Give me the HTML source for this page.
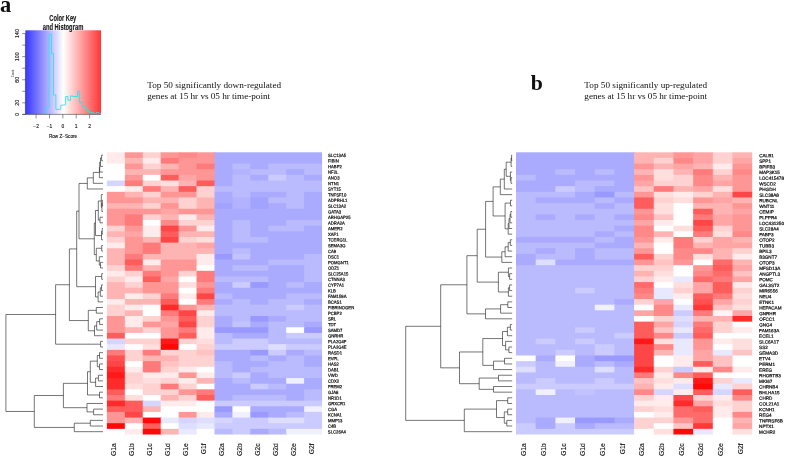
<!DOCTYPE html>
<html><head><meta charset="utf-8"><title>Heatmaps</title>
<style>html,body{margin:0;padding:0;background:#fff}svg{display:block}text{font-family:"Liberation Sans",sans-serif;fill:#111}.ser{font-family:"Liberation Serif",serif}</style></head><body>
<svg width="785" height="457" viewBox="0 0 785 457">
<defs><linearGradient id="kg" x1="0" x2="1" y1="0" y2="0"><stop offset="0" stop-color="#3636ff"/><stop offset="0.5" stop-color="#ffffff"/><stop offset="1" stop-color="#ff3636"/></linearGradient></defs>
<rect width="785" height="457" fill="#fff"/>
<text class="ser" x="0" y="11.9" font-size="22.5" font-weight="bold" fill="#000">a</text>
<text class="ser" x="530.8" y="89.8" font-size="21.8" font-weight="bold" fill="#000">b</text>
<g class="ser" font-size="9.2" fill="#222" transform="rotate(0.02)">
<text class="ser" x="147.3" y="87.5" textLength="133.8">Top 50 significantly down-regulated</text>
<text class="ser" x="147.3" y="98.9" textLength="122.8">genes at 15 hr vs 05 hr time-point</text>
<text class="ser" x="584.4" y="87.5" textLength="122.8">Top 50 significantly up-regulated</text>
<text class="ser" x="584.4" y="98.9" textLength="122.8">genes at 15 hr vs 05 hr time-point</text>
</g>
<rect x="25.4" y="30.3" width="75.6" height="84.1" fill="url(#kg)"/>
<text x="62.8" y="21.1" font-size="8.2" stroke="#111" stroke-width="0.12" font-weight="bold" text-anchor="middle" textLength="27" lengthAdjust="spacingAndGlyphs">Color Key</text>
<text x="63" y="29.7" font-size="8.2" stroke="#111" stroke-width="0.12" font-weight="bold" text-anchor="middle" textLength="40.6" lengthAdjust="spacingAndGlyphs">and Histogram</text>
<polyline points="46.18,114.22 46.18,107.33 48.94,107.33 48.94,34.3 51.5,34.3 51.5,53.59 53.46,53.59 53.46,94.93 55.83,94.93 55.83,109.3 60.75,109.3 60.75,105.36 65.67,104.77 65.67,96.5 67.83,96.5 67.83,100.24 70.59,100.24 70.59,95.91 72.76,95.91 72.76,96.5 77.68,96.5 77.68,91.39 79.65,91.39 79.65,102.21 82.01,102.21 82.01,106.15 84.57,106.15 84.57,108.31 86.93,108.31 86.93,110.68 89.29,110.68 89.29,112.65 93.82,112.65 93.82,113.83 96.38,113.83 96.38,112.65 98.74,112.65 98.74,113.43 101.1,113.43" fill="none" stroke="#30e0f0" stroke-width="0.9"/>
<path d="M22.2 114.4H101M36.09 114.4V118.4M49.47 114.4V118.4M62.85 114.4V118.4M76.23 114.4V118.4M89.61 114.4V118.4M22.2 114.4H25.4M22.2 102.85H25.4M22.2 91.3H25.4M22.2 79.75H25.4M22.2 68.2H25.4M22.2 56.65H25.4M22.2 45.1H25.4M22.2 33.55H25.4M25.4 33.55V114.4" fill="none" stroke="#222" stroke-width="0.5"/>
<text x="36.09" y="127.7" font-size="4.9" stroke="#111" stroke-width="0.12" text-anchor="middle">−2</text>
<text x="49.47" y="127.7" font-size="4.9" stroke="#111" stroke-width="0.12" text-anchor="middle">−1</text>
<text x="62.85" y="127.7" font-size="4.9" stroke="#111" stroke-width="0.12" text-anchor="middle">0</text>
<text x="76.23" y="127.7" font-size="4.9" stroke="#111" stroke-width="0.12" text-anchor="middle">1</text>
<text x="89.61" y="127.7" font-size="4.9" stroke="#111" stroke-width="0.12" text-anchor="middle">2</text>
<text x="63" y="137.6" font-size="4.9" stroke="#111" stroke-width="0.12" text-anchor="middle" textLength="28.2" lengthAdjust="spacingAndGlyphs">Row Z−Score</text>
<text transform="translate(18.6 114.4) rotate(-90)" font-size="5.4" stroke="#111" stroke-width="0.12" text-anchor="middle">0</text>
<text transform="translate(18.6 102.85) rotate(-90)" font-size="5.4" stroke="#111" stroke-width="0.12" text-anchor="middle">20</text>
<text transform="translate(18.6 79.75) rotate(-90)" font-size="5.4" stroke="#111" stroke-width="0.12" text-anchor="middle">60</text>
<text transform="translate(18.6 56.65) rotate(-90)" font-size="5.4" stroke="#111" stroke-width="0.12" text-anchor="middle">100</text>
<text transform="translate(18.6 33.55) rotate(-90)" font-size="5.4" stroke="#111" stroke-width="0.12" text-anchor="middle">140</text>
<text transform="translate(13.6 73.4) rotate(-90)" font-size="2.8" text-anchor="middle">Count</text>
<g>
<rect x="106.9" y="152.3" width="18.93" height="6.64" fill="#ffebeb"/>
<rect x="124.83" y="152.3" width="18.93" height="6.64" fill="#ff9696"/>
<rect x="142.76" y="152.3" width="18.93" height="6.64" fill="#ffd2d2"/>
<rect x="160.69" y="152.3" width="18.93" height="6.64" fill="#ff9696"/>
<rect x="178.62" y="152.3" width="18.93" height="6.64" fill="#ff8888"/>
<rect x="196.55" y="152.3" width="18.93" height="6.64" fill="#ff9696"/>
<rect x="214.48" y="152.3" width="107.58" height="6.64" fill="#aaaaff"/>
<rect x="106.9" y="157.94" width="18.93" height="6.64" fill="#ffebeb"/>
<rect x="124.83" y="157.94" width="18.93" height="6.64" fill="#ffb4b4"/>
<rect x="142.76" y="157.94" width="18.93" height="6.64" fill="#ffebeb"/>
<rect x="160.69" y="157.94" width="18.93" height="6.64" fill="#ff7a7a"/>
<rect x="178.62" y="157.94" width="36.86" height="6.64" fill="#ff9696"/>
<rect x="214.48" y="157.94" width="107.58" height="6.64" fill="#aaaaff"/>
<rect x="106.9" y="163.59" width="18.93" height="6.64" fill="#ffffff"/>
<rect x="124.83" y="163.59" width="18.93" height="6.64" fill="#ff9696"/>
<rect x="142.76" y="163.59" width="18.93" height="6.64" fill="#ffd2d2"/>
<rect x="160.69" y="163.59" width="18.93" height="6.64" fill="#ffb4b4"/>
<rect x="178.62" y="163.59" width="18.93" height="6.64" fill="#ff9696"/>
<rect x="196.55" y="163.59" width="18.93" height="6.64" fill="#ff7a7a"/>
<rect x="214.48" y="163.59" width="18.93" height="6.64" fill="#aaaaff"/>
<rect x="232.41" y="163.59" width="18.93" height="6.64" fill="#babaff"/>
<rect x="250.34" y="163.59" width="18.93" height="6.64" fill="#aaaaff"/>
<rect x="268.27" y="163.59" width="53.79" height="6.64" fill="#babaff"/>
<rect x="106.9" y="169.23" width="18.93" height="6.64" fill="#ffffff"/>
<rect x="124.83" y="169.23" width="36.86" height="6.64" fill="#ffb4b4"/>
<rect x="160.69" y="169.23" width="54.79" height="6.64" fill="#ff9696"/>
<rect x="214.48" y="169.23" width="18.93" height="6.64" fill="#aaaaff"/>
<rect x="232.41" y="169.23" width="18.93" height="6.64" fill="#b2b2ff"/>
<rect x="250.34" y="169.23" width="36.86" height="6.64" fill="#babaff"/>
<rect x="286.2" y="169.23" width="18.93" height="6.64" fill="#aaaaff"/>
<rect x="304.13" y="169.23" width="17.93" height="6.64" fill="#babaff"/>
<rect x="106.9" y="174.88" width="18.93" height="6.64" fill="#ffffff"/>
<rect x="124.83" y="174.88" width="18.93" height="6.64" fill="#ff9696"/>
<rect x="142.76" y="174.88" width="18.93" height="6.64" fill="#ffffff"/>
<rect x="160.69" y="174.88" width="18.93" height="6.64" fill="#ff5c5c"/>
<rect x="178.62" y="174.88" width="18.93" height="6.64" fill="#ffa5a5"/>
<rect x="196.55" y="174.88" width="18.93" height="6.64" fill="#ff9696"/>
<rect x="214.48" y="174.88" width="18.93" height="6.64" fill="#aaaaff"/>
<rect x="232.41" y="174.88" width="18.93" height="6.64" fill="#babaff"/>
<rect x="250.34" y="174.88" width="18.93" height="6.64" fill="#aaaaff"/>
<rect x="268.27" y="174.88" width="18.93" height="6.64" fill="#cbcbff"/>
<rect x="286.2" y="174.88" width="18.93" height="6.64" fill="#babaff"/>
<rect x="304.13" y="174.88" width="17.93" height="6.64" fill="#aaaaff"/>
<rect x="106.9" y="180.52" width="18.93" height="6.64" fill="#d5d5ff"/>
<rect x="124.83" y="180.52" width="18.93" height="6.64" fill="#ff7a7a"/>
<rect x="142.76" y="180.52" width="18.93" height="6.64" fill="#ffd2d2"/>
<rect x="160.69" y="180.52" width="18.93" height="6.64" fill="#ffdede"/>
<rect x="178.62" y="180.52" width="18.93" height="6.64" fill="#ffb4b4"/>
<rect x="196.55" y="180.52" width="18.93" height="6.64" fill="#ff5c5c"/>
<rect x="214.48" y="180.52" width="18.93" height="6.64" fill="#aaaaff"/>
<rect x="232.41" y="180.52" width="89.65" height="6.64" fill="#babaff"/>
<rect x="106.9" y="186.16" width="18.93" height="6.64" fill="#ffffff"/>
<rect x="124.83" y="186.16" width="18.93" height="6.64" fill="#ffebeb"/>
<rect x="142.76" y="186.16" width="18.93" height="6.64" fill="#ff7a7a"/>
<rect x="160.69" y="186.16" width="18.93" height="6.64" fill="#ffb4b4"/>
<rect x="178.62" y="186.16" width="18.93" height="6.64" fill="#ff5c5c"/>
<rect x="196.55" y="186.16" width="18.93" height="6.64" fill="#ffd2d2"/>
<rect x="214.48" y="186.16" width="107.58" height="6.64" fill="#babaff"/>
<rect x="106.9" y="191.81" width="18.93" height="6.64" fill="#ff9696"/>
<rect x="124.83" y="191.81" width="18.93" height="6.64" fill="#ffb4b4"/>
<rect x="142.76" y="191.81" width="18.93" height="6.64" fill="#ffd2d2"/>
<rect x="160.69" y="191.81" width="36.86" height="6.64" fill="#ff9696"/>
<rect x="196.55" y="191.81" width="18.93" height="6.64" fill="#ffd2d2"/>
<rect x="214.48" y="191.81" width="18.93" height="6.64" fill="#aaaaff"/>
<rect x="232.41" y="191.81" width="18.93" height="6.64" fill="#babaff"/>
<rect x="250.34" y="191.81" width="36.86" height="6.64" fill="#aaaaff"/>
<rect x="286.2" y="191.81" width="18.93" height="6.64" fill="#babaff"/>
<rect x="304.13" y="191.81" width="17.93" height="6.64" fill="#aaaaff"/>
<rect x="106.9" y="197.45" width="36.86" height="6.64" fill="#ff9696"/>
<rect x="142.76" y="197.45" width="36.86" height="6.64" fill="#ffb4b4"/>
<rect x="178.62" y="197.45" width="18.93" height="6.64" fill="#ffd2d2"/>
<rect x="196.55" y="197.45" width="18.93" height="6.64" fill="#ffb4b4"/>
<rect x="214.48" y="197.45" width="18.93" height="6.64" fill="#aaaaff"/>
<rect x="232.41" y="197.45" width="18.93" height="6.64" fill="#b2b2ff"/>
<rect x="250.34" y="197.45" width="18.93" height="6.64" fill="#a2a2ff"/>
<rect x="268.27" y="197.45" width="36.86" height="6.64" fill="#babaff"/>
<rect x="304.13" y="197.45" width="17.93" height="6.64" fill="#aaaaff"/>
<rect x="106.9" y="203.1" width="36.86" height="6.64" fill="#ffb4b4"/>
<rect x="142.76" y="203.1" width="18.93" height="6.64" fill="#ffd2d2"/>
<rect x="160.69" y="203.1" width="18.93" height="6.64" fill="#ff9696"/>
<rect x="178.62" y="203.1" width="18.93" height="6.64" fill="#ffd2d2"/>
<rect x="196.55" y="203.1" width="18.93" height="6.64" fill="#ffb4b4"/>
<rect x="214.48" y="203.1" width="18.93" height="6.64" fill="#a2a2ff"/>
<rect x="232.41" y="203.1" width="18.93" height="6.64" fill="#b2b2ff"/>
<rect x="250.34" y="203.1" width="18.93" height="6.64" fill="#a2a2ff"/>
<rect x="268.27" y="203.1" width="18.93" height="6.64" fill="#aaaaff"/>
<rect x="286.2" y="203.1" width="18.93" height="6.64" fill="#babaff"/>
<rect x="304.13" y="203.1" width="17.93" height="6.64" fill="#aaaaff"/>
<rect x="106.9" y="208.74" width="54.79" height="6.64" fill="#ff9696"/>
<rect x="160.69" y="208.74" width="18.93" height="6.64" fill="#ffa5a5"/>
<rect x="178.62" y="208.74" width="36.86" height="6.64" fill="#ff9696"/>
<rect x="214.48" y="208.74" width="107.58" height="6.64" fill="#aaaaff"/>
<rect x="106.9" y="214.38" width="18.93" height="6.64" fill="#ff9696"/>
<rect x="124.83" y="214.38" width="18.93" height="6.64" fill="#ff7a7a"/>
<rect x="142.76" y="214.38" width="18.93" height="6.64" fill="#ffd2d2"/>
<rect x="160.69" y="214.38" width="18.93" height="6.64" fill="#ffb4b4"/>
<rect x="178.62" y="214.38" width="18.93" height="6.64" fill="#ffebeb"/>
<rect x="196.55" y="214.38" width="18.93" height="6.64" fill="#ffb4b4"/>
<rect x="214.48" y="214.38" width="107.58" height="6.64" fill="#aaaaff"/>
<rect x="106.9" y="220.03" width="18.93" height="6.64" fill="#ff9696"/>
<rect x="124.83" y="220.03" width="18.93" height="6.64" fill="#ff7a7a"/>
<rect x="142.76" y="220.03" width="18.93" height="6.64" fill="#ffffff"/>
<rect x="160.69" y="220.03" width="18.93" height="6.64" fill="#ff8888"/>
<rect x="178.62" y="220.03" width="36.86" height="6.64" fill="#ffd2d2"/>
<rect x="214.48" y="220.03" width="18.93" height="6.64" fill="#aaaaff"/>
<rect x="232.41" y="220.03" width="18.93" height="6.64" fill="#babaff"/>
<rect x="250.34" y="220.03" width="36.86" height="6.64" fill="#aaaaff"/>
<rect x="286.2" y="220.03" width="35.86" height="6.64" fill="#babaff"/>
<rect x="106.9" y="225.67" width="18.93" height="6.64" fill="#ffd2d2"/>
<rect x="124.83" y="225.67" width="18.93" height="6.64" fill="#ff9696"/>
<rect x="142.76" y="225.67" width="18.93" height="6.64" fill="#ffebeb"/>
<rect x="160.69" y="225.67" width="18.93" height="6.64" fill="#ff4646"/>
<rect x="178.62" y="225.67" width="18.93" height="6.64" fill="#ff9696"/>
<rect x="196.55" y="225.67" width="18.93" height="6.64" fill="#ffebeb"/>
<rect x="214.48" y="225.67" width="18.93" height="6.64" fill="#aaaaff"/>
<rect x="232.41" y="225.67" width="18.93" height="6.64" fill="#babaff"/>
<rect x="250.34" y="225.67" width="18.93" height="6.64" fill="#aaaaff"/>
<rect x="268.27" y="225.67" width="36.86" height="6.64" fill="#babaff"/>
<rect x="304.13" y="225.67" width="17.93" height="6.64" fill="#aaaaff"/>
<rect x="106.9" y="231.32" width="18.93" height="6.64" fill="#ffb4b4"/>
<rect x="124.83" y="231.32" width="18.93" height="6.64" fill="#ffa5a5"/>
<rect x="142.76" y="231.32" width="18.93" height="6.64" fill="#ffebeb"/>
<rect x="160.69" y="231.32" width="18.93" height="6.64" fill="#ff5c5c"/>
<rect x="178.62" y="231.32" width="36.86" height="6.64" fill="#ffb4b4"/>
<rect x="214.48" y="231.32" width="18.93" height="6.64" fill="#aaaaff"/>
<rect x="232.41" y="231.32" width="18.93" height="6.64" fill="#babaff"/>
<rect x="250.34" y="231.32" width="71.72" height="6.64" fill="#aaaaff"/>
<rect x="106.9" y="236.96" width="18.93" height="6.64" fill="#ffd2d2"/>
<rect x="124.83" y="236.96" width="18.93" height="6.64" fill="#ff9696"/>
<rect x="142.76" y="236.96" width="18.93" height="6.64" fill="#ffb4b4"/>
<rect x="160.69" y="236.96" width="18.93" height="6.64" fill="#ff4646"/>
<rect x="178.62" y="236.96" width="18.93" height="6.64" fill="#ffd2d2"/>
<rect x="196.55" y="236.96" width="18.93" height="6.64" fill="#ffdede"/>
<rect x="214.48" y="236.96" width="18.93" height="6.64" fill="#aaaaff"/>
<rect x="232.41" y="236.96" width="36.86" height="6.64" fill="#babaff"/>
<rect x="268.27" y="236.96" width="53.79" height="6.64" fill="#aaaaff"/>
<rect x="106.9" y="242.6" width="18.93" height="6.64" fill="#ffebeb"/>
<rect x="124.83" y="242.6" width="18.93" height="6.64" fill="#ff9696"/>
<rect x="142.76" y="242.6" width="18.93" height="6.64" fill="#ff7a7a"/>
<rect x="160.69" y="242.6" width="36.86" height="6.64" fill="#ffb4b4"/>
<rect x="196.55" y="242.6" width="18.93" height="6.64" fill="#ffa5a5"/>
<rect x="214.48" y="242.6" width="107.58" height="6.64" fill="#aaaaff"/>
<rect x="106.9" y="248.25" width="18.93" height="6.64" fill="#ffb4b4"/>
<rect x="124.83" y="248.25" width="18.93" height="6.64" fill="#ff9696"/>
<rect x="142.76" y="248.25" width="18.93" height="6.64" fill="#ff7a7a"/>
<rect x="160.69" y="248.25" width="54.79" height="6.64" fill="#ffb4b4"/>
<rect x="214.48" y="248.25" width="18.93" height="6.64" fill="#aaaaff"/>
<rect x="232.41" y="248.25" width="18.93" height="6.64" fill="#babaff"/>
<rect x="250.34" y="248.25" width="71.72" height="6.64" fill="#aaaaff"/>
<rect x="106.9" y="253.89" width="18.93" height="6.64" fill="#ffb4b4"/>
<rect x="124.83" y="253.89" width="18.93" height="6.64" fill="#ff7a7a"/>
<rect x="142.76" y="253.89" width="54.79" height="6.64" fill="#ffb4b4"/>
<rect x="196.55" y="253.89" width="18.93" height="6.64" fill="#ffebeb"/>
<rect x="214.48" y="253.89" width="18.93" height="6.64" fill="#9999ff"/>
<rect x="232.41" y="253.89" width="18.93" height="6.64" fill="#c2c2ff"/>
<rect x="250.34" y="253.89" width="54.79" height="6.64" fill="#aaaaff"/>
<rect x="304.13" y="253.89" width="17.93" height="6.64" fill="#babaff"/>
<rect x="106.9" y="259.54" width="18.93" height="6.64" fill="#ffb4b4"/>
<rect x="124.83" y="259.54" width="18.93" height="6.64" fill="#ff5c5c"/>
<rect x="142.76" y="259.54" width="18.93" height="6.64" fill="#ffebeb"/>
<rect x="160.69" y="259.54" width="36.86" height="6.64" fill="#ff9696"/>
<rect x="196.55" y="259.54" width="18.93" height="6.64" fill="#ffebeb"/>
<rect x="214.48" y="259.54" width="54.79" height="6.64" fill="#aaaaff"/>
<rect x="268.27" y="259.54" width="53.79" height="6.64" fill="#babaff"/>
<rect x="106.9" y="265.18" width="18.93" height="6.64" fill="#ffd2d2"/>
<rect x="124.83" y="265.18" width="18.93" height="6.64" fill="#ff7a7a"/>
<rect x="142.76" y="265.18" width="18.93" height="6.64" fill="#ffb4b4"/>
<rect x="160.69" y="265.18" width="36.86" height="6.64" fill="#ff9696"/>
<rect x="196.55" y="265.18" width="18.93" height="6.64" fill="#ffffff"/>
<rect x="214.48" y="265.18" width="18.93" height="6.64" fill="#aaaaff"/>
<rect x="232.41" y="265.18" width="36.86" height="6.64" fill="#babaff"/>
<rect x="268.27" y="265.18" width="36.86" height="6.64" fill="#aaaaff"/>
<rect x="304.13" y="265.18" width="17.93" height="6.64" fill="#babaff"/>
<rect x="106.9" y="270.82" width="18.93" height="6.64" fill="#ffebeb"/>
<rect x="124.83" y="270.82" width="18.93" height="6.64" fill="#ffd2d2"/>
<rect x="142.76" y="270.82" width="18.93" height="6.64" fill="#ff7a7a"/>
<rect x="160.69" y="270.82" width="18.93" height="6.64" fill="#ff9696"/>
<rect x="178.62" y="270.82" width="18.93" height="6.64" fill="#ffd2d2"/>
<rect x="196.55" y="270.82" width="18.93" height="6.64" fill="#ff7a7a"/>
<rect x="214.48" y="270.82" width="90.65" height="6.64" fill="#aaaaff"/>
<rect x="304.13" y="270.82" width="17.93" height="6.64" fill="#babaff"/>
<rect x="106.9" y="276.47" width="18.93" height="6.64" fill="#ffd2d2"/>
<rect x="124.83" y="276.47" width="18.93" height="6.64" fill="#ffebeb"/>
<rect x="142.76" y="276.47" width="18.93" height="6.64" fill="#ff5c5c"/>
<rect x="160.69" y="276.47" width="18.93" height="6.64" fill="#ffa5a5"/>
<rect x="178.62" y="276.47" width="18.93" height="6.64" fill="#ffffff"/>
<rect x="196.55" y="276.47" width="18.93" height="6.64" fill="#ff7a7a"/>
<rect x="214.48" y="276.47" width="54.79" height="6.64" fill="#babaff"/>
<rect x="268.27" y="276.47" width="36.86" height="6.64" fill="#aaaaff"/>
<rect x="304.13" y="276.47" width="17.93" height="6.64" fill="#babaff"/>
<rect x="106.9" y="282.11" width="18.93" height="6.64" fill="#ffb4b4"/>
<rect x="124.83" y="282.11" width="18.93" height="6.64" fill="#ffd2d2"/>
<rect x="142.76" y="282.11" width="36.86" height="6.64" fill="#ff9696"/>
<rect x="178.62" y="282.11" width="18.93" height="6.64" fill="#ffdede"/>
<rect x="196.55" y="282.11" width="18.93" height="6.64" fill="#ff9696"/>
<rect x="214.48" y="282.11" width="18.93" height="6.64" fill="#aaaaff"/>
<rect x="232.41" y="282.11" width="18.93" height="6.64" fill="#cbcbff"/>
<rect x="250.34" y="282.11" width="18.93" height="6.64" fill="#9999ff"/>
<rect x="268.27" y="282.11" width="18.93" height="6.64" fill="#aaaaff"/>
<rect x="286.2" y="282.11" width="18.93" height="6.64" fill="#babaff"/>
<rect x="304.13" y="282.11" width="17.93" height="6.64" fill="#aaaaff"/>
<rect x="106.9" y="287.76" width="36.86" height="6.64" fill="#ffb4b4"/>
<rect x="142.76" y="287.76" width="36.86" height="6.64" fill="#ff9696"/>
<rect x="178.62" y="287.76" width="18.93" height="6.64" fill="#ffffff"/>
<rect x="196.55" y="287.76" width="18.93" height="6.64" fill="#ff7a7a"/>
<rect x="214.48" y="287.76" width="107.58" height="6.64" fill="#aaaaff"/>
<rect x="106.9" y="293.4" width="18.93" height="6.64" fill="#ffb4b4"/>
<rect x="124.83" y="293.4" width="18.93" height="6.64" fill="#ffebeb"/>
<rect x="142.76" y="293.4" width="18.93" height="6.64" fill="#ffd2d2"/>
<rect x="160.69" y="293.4" width="18.93" height="6.64" fill="#ff7a7a"/>
<rect x="178.62" y="293.4" width="18.93" height="6.64" fill="#ffebeb"/>
<rect x="196.55" y="293.4" width="18.93" height="6.64" fill="#ff4646"/>
<rect x="214.48" y="293.4" width="18.93" height="6.64" fill="#babaff"/>
<rect x="232.41" y="293.4" width="54.79" height="6.64" fill="#aaaaff"/>
<rect x="286.2" y="293.4" width="35.86" height="6.64" fill="#babaff"/>
<rect x="106.9" y="299.04" width="18.93" height="6.64" fill="#ffebeb"/>
<rect x="124.83" y="299.04" width="36.86" height="6.64" fill="#ffb4b4"/>
<rect x="160.69" y="299.04" width="18.93" height="6.64" fill="#ff5c5c"/>
<rect x="178.62" y="299.04" width="18.93" height="6.64" fill="#ffffff"/>
<rect x="196.55" y="299.04" width="18.93" height="6.64" fill="#ff7a7a"/>
<rect x="214.48" y="299.04" width="18.93" height="6.64" fill="#aaaaff"/>
<rect x="232.41" y="299.04" width="18.93" height="6.64" fill="#babaff"/>
<rect x="250.34" y="299.04" width="18.93" height="6.64" fill="#aaaaff"/>
<rect x="268.27" y="299.04" width="36.86" height="6.64" fill="#babaff"/>
<rect x="304.13" y="299.04" width="17.93" height="6.64" fill="#aaaaff"/>
<rect x="106.9" y="304.69" width="18.93" height="6.64" fill="#ffd2d2"/>
<rect x="124.83" y="304.69" width="18.93" height="6.64" fill="#ffebeb"/>
<rect x="142.76" y="304.69" width="18.93" height="6.64" fill="#ffffff"/>
<rect x="160.69" y="304.69" width="18.93" height="6.64" fill="#ff2a2a"/>
<rect x="178.62" y="304.69" width="18.93" height="6.64" fill="#ff9696"/>
<rect x="196.55" y="304.69" width="18.93" height="6.64" fill="#ffb4b4"/>
<rect x="214.48" y="304.69" width="72.72" height="6.64" fill="#babaff"/>
<rect x="286.2" y="304.69" width="18.93" height="6.64" fill="#cbcbff"/>
<rect x="304.13" y="304.69" width="17.93" height="6.64" fill="#babaff"/>
<rect x="106.9" y="310.33" width="18.93" height="6.64" fill="#ffd2d2"/>
<rect x="124.83" y="310.33" width="18.93" height="6.64" fill="#ffb4b4"/>
<rect x="142.76" y="310.33" width="18.93" height="6.64" fill="#ffffff"/>
<rect x="160.69" y="310.33" width="18.93" height="6.64" fill="#ff7a7a"/>
<rect x="178.62" y="310.33" width="18.93" height="6.64" fill="#ff4646"/>
<rect x="196.55" y="310.33" width="18.93" height="6.64" fill="#ffebeb"/>
<rect x="214.48" y="310.33" width="107.58" height="6.64" fill="#babaff"/>
<rect x="106.9" y="315.98" width="18.93" height="6.64" fill="#ff9696"/>
<rect x="124.83" y="315.98" width="18.93" height="6.64" fill="#ffebeb"/>
<rect x="142.76" y="315.98" width="18.93" height="6.64" fill="#ffd2d2"/>
<rect x="160.69" y="315.98" width="18.93" height="6.64" fill="#ff9696"/>
<rect x="178.62" y="315.98" width="18.93" height="6.64" fill="#ff5c5c"/>
<rect x="196.55" y="315.98" width="18.93" height="6.64" fill="#ffd2d2"/>
<rect x="214.48" y="315.98" width="18.93" height="6.64" fill="#aaaaff"/>
<rect x="232.41" y="315.98" width="18.93" height="6.64" fill="#babaff"/>
<rect x="250.34" y="315.98" width="18.93" height="6.64" fill="#9999ff"/>
<rect x="268.27" y="315.98" width="18.93" height="6.64" fill="#aaaaff"/>
<rect x="286.2" y="315.98" width="35.86" height="6.64" fill="#babaff"/>
<rect x="106.9" y="321.62" width="18.93" height="6.64" fill="#ff9696"/>
<rect x="124.83" y="321.62" width="18.93" height="6.64" fill="#ffebeb"/>
<rect x="142.76" y="321.62" width="18.93" height="6.64" fill="#ff9696"/>
<rect x="160.69" y="321.62" width="18.93" height="6.64" fill="#ffa5a5"/>
<rect x="178.62" y="321.62" width="18.93" height="6.64" fill="#ff4646"/>
<rect x="196.55" y="321.62" width="18.93" height="6.64" fill="#ffd2d2"/>
<rect x="214.48" y="321.62" width="18.93" height="6.64" fill="#aaaaff"/>
<rect x="232.41" y="321.62" width="18.93" height="6.64" fill="#c2c2ff"/>
<rect x="250.34" y="321.62" width="18.93" height="6.64" fill="#aaaaff"/>
<rect x="268.27" y="321.62" width="36.86" height="6.64" fill="#babaff"/>
<rect x="304.13" y="321.62" width="17.93" height="6.64" fill="#aaaaff"/>
<rect x="106.9" y="327.26" width="18.93" height="6.64" fill="#ff9696"/>
<rect x="124.83" y="327.26" width="18.93" height="6.64" fill="#ffb4b4"/>
<rect x="142.76" y="327.26" width="18.93" height="6.64" fill="#ffd2d2"/>
<rect x="160.69" y="327.26" width="18.93" height="6.64" fill="#ff9696"/>
<rect x="178.62" y="327.26" width="18.93" height="6.64" fill="#ff7a7a"/>
<rect x="196.55" y="327.26" width="18.93" height="6.64" fill="#ffebeb"/>
<rect x="214.48" y="327.26" width="54.79" height="6.64" fill="#9999ff"/>
<rect x="268.27" y="327.26" width="18.93" height="6.64" fill="#babaff"/>
<rect x="286.2" y="327.26" width="18.93" height="6.64" fill="#ffffff"/>
<rect x="304.13" y="327.26" width="17.93" height="6.64" fill="#9999ff"/>
<rect x="106.9" y="332.91" width="18.93" height="6.64" fill="#ff5c5c"/>
<rect x="124.83" y="332.91" width="36.86" height="6.64" fill="#ffffff"/>
<rect x="160.69" y="332.91" width="18.93" height="6.64" fill="#ff9696"/>
<rect x="178.62" y="332.91" width="18.93" height="6.64" fill="#ff5c5c"/>
<rect x="196.55" y="332.91" width="18.93" height="6.64" fill="#ffebeb"/>
<rect x="214.48" y="332.91" width="18.93" height="6.64" fill="#babaff"/>
<rect x="232.41" y="332.91" width="36.86" height="6.64" fill="#aaaaff"/>
<rect x="268.27" y="332.91" width="18.93" height="6.64" fill="#babaff"/>
<rect x="286.2" y="332.91" width="35.86" height="6.64" fill="#cbcbff"/>
<rect x="106.9" y="338.55" width="18.93" height="6.64" fill="#d5d5ff"/>
<rect x="124.83" y="338.55" width="36.86" height="6.64" fill="#ffd2d2"/>
<rect x="160.69" y="338.55" width="18.93" height="6.64" fill="#ff1919"/>
<rect x="178.62" y="338.55" width="18.93" height="6.64" fill="#ffd2d2"/>
<rect x="196.55" y="338.55" width="18.93" height="6.64" fill="#ffdede"/>
<rect x="214.48" y="338.55" width="18.93" height="6.64" fill="#babaff"/>
<rect x="232.41" y="338.55" width="36.86" height="6.64" fill="#cbcbff"/>
<rect x="268.27" y="338.55" width="53.79" height="6.64" fill="#babaff"/>
<rect x="106.9" y="344.2" width="18.93" height="6.64" fill="#e8e8ff"/>
<rect x="124.83" y="344.2" width="18.93" height="6.64" fill="#ffffff"/>
<rect x="142.76" y="344.2" width="18.93" height="6.64" fill="#ffdede"/>
<rect x="160.69" y="344.2" width="18.93" height="6.64" fill="#ff0808"/>
<rect x="178.62" y="344.2" width="18.93" height="6.64" fill="#ffffff"/>
<rect x="196.55" y="344.2" width="18.93" height="6.64" fill="#ffd2d2"/>
<rect x="214.48" y="344.2" width="54.79" height="6.64" fill="#cbcbff"/>
<rect x="268.27" y="344.2" width="18.93" height="6.64" fill="#dedeff"/>
<rect x="286.2" y="344.2" width="35.86" height="6.64" fill="#cbcbff"/>
<rect x="106.9" y="349.84" width="18.93" height="6.64" fill="#ff7a7a"/>
<rect x="124.83" y="349.84" width="18.93" height="6.64" fill="#ffd2d2"/>
<rect x="142.76" y="349.84" width="18.93" height="6.64" fill="#ff7a7a"/>
<rect x="160.69" y="349.84" width="36.86" height="6.64" fill="#ffd2d2"/>
<rect x="196.55" y="349.84" width="18.93" height="6.64" fill="#ffc3c3"/>
<rect x="214.48" y="349.84" width="36.86" height="6.64" fill="#aaaaff"/>
<rect x="250.34" y="349.84" width="18.93" height="6.64" fill="#9999ff"/>
<rect x="268.27" y="349.84" width="18.93" height="6.64" fill="#cbcbff"/>
<rect x="286.2" y="349.84" width="18.93" height="6.64" fill="#aaaaff"/>
<rect x="304.13" y="349.84" width="17.93" height="6.64" fill="#babaff"/>
<rect x="106.9" y="355.48" width="18.93" height="6.64" fill="#ff5151"/>
<rect x="124.83" y="355.48" width="18.93" height="6.64" fill="#ffd2d2"/>
<rect x="142.76" y="355.48" width="36.86" height="6.64" fill="#ffb4b4"/>
<rect x="178.62" y="355.48" width="36.86" height="6.64" fill="#ffd2d2"/>
<rect x="214.48" y="355.48" width="36.86" height="6.64" fill="#aaaaff"/>
<rect x="250.34" y="355.48" width="18.93" height="6.64" fill="#babaff"/>
<rect x="268.27" y="355.48" width="18.93" height="6.64" fill="#aaaaff"/>
<rect x="286.2" y="355.48" width="18.93" height="6.64" fill="#babaff"/>
<rect x="304.13" y="355.48" width="17.93" height="6.64" fill="#aaaaff"/>
<rect x="106.9" y="361.13" width="18.93" height="6.64" fill="#ff4646"/>
<rect x="124.83" y="361.13" width="18.93" height="6.64" fill="#ffffff"/>
<rect x="142.76" y="361.13" width="18.93" height="6.64" fill="#ff7a7a"/>
<rect x="160.69" y="361.13" width="18.93" height="6.64" fill="#ffc3c3"/>
<rect x="178.62" y="361.13" width="36.86" height="6.64" fill="#ffd2d2"/>
<rect x="214.48" y="361.13" width="18.93" height="6.64" fill="#babaff"/>
<rect x="232.41" y="361.13" width="36.86" height="6.64" fill="#aaaaff"/>
<rect x="268.27" y="361.13" width="36.86" height="6.64" fill="#babaff"/>
<rect x="304.13" y="361.13" width="17.93" height="6.64" fill="#aaaaff"/>
<rect x="106.9" y="366.77" width="18.93" height="6.64" fill="#ff2a2a"/>
<rect x="124.83" y="366.77" width="18.93" height="6.64" fill="#ffebeb"/>
<rect x="142.76" y="366.77" width="18.93" height="6.64" fill="#ff7a7a"/>
<rect x="160.69" y="366.77" width="18.93" height="6.64" fill="#ffd2d2"/>
<rect x="178.62" y="366.77" width="18.93" height="6.64" fill="#ffebeb"/>
<rect x="196.55" y="366.77" width="18.93" height="6.64" fill="#ffffff"/>
<rect x="214.48" y="366.77" width="18.93" height="6.64" fill="#babaff"/>
<rect x="232.41" y="366.77" width="18.93" height="6.64" fill="#aaaaff"/>
<rect x="250.34" y="366.77" width="71.72" height="6.64" fill="#babaff"/>
<rect x="106.9" y="372.42" width="18.93" height="6.64" fill="#ff1919"/>
<rect x="124.83" y="372.42" width="18.93" height="6.64" fill="#ffd2d2"/>
<rect x="142.76" y="372.42" width="36.86" height="6.64" fill="#ffebeb"/>
<rect x="178.62" y="372.42" width="18.93" height="6.64" fill="#ff9696"/>
<rect x="196.55" y="372.42" width="18.93" height="6.64" fill="#ffebeb"/>
<rect x="214.48" y="372.42" width="18.93" height="6.64" fill="#babaff"/>
<rect x="232.41" y="372.42" width="18.93" height="6.64" fill="#cbcbff"/>
<rect x="250.34" y="372.42" width="18.93" height="6.64" fill="#aaaaff"/>
<rect x="268.27" y="372.42" width="53.79" height="6.64" fill="#babaff"/>
<rect x="106.9" y="378.06" width="18.93" height="6.64" fill="#ff2a2a"/>
<rect x="124.83" y="378.06" width="18.93" height="6.64" fill="#ffd2d2"/>
<rect x="142.76" y="378.06" width="18.93" height="6.64" fill="#ffdede"/>
<rect x="160.69" y="378.06" width="18.93" height="6.64" fill="#ffd2d2"/>
<rect x="178.62" y="378.06" width="18.93" height="6.64" fill="#ffebeb"/>
<rect x="196.55" y="378.06" width="18.93" height="6.64" fill="#ffb4b4"/>
<rect x="214.48" y="378.06" width="18.93" height="6.64" fill="#aaaaff"/>
<rect x="232.41" y="378.06" width="18.93" height="6.64" fill="#babaff"/>
<rect x="250.34" y="378.06" width="36.86" height="6.64" fill="#aaaaff"/>
<rect x="286.2" y="378.06" width="18.93" height="6.64" fill="#f0f0ff"/>
<rect x="304.13" y="378.06" width="17.93" height="6.64" fill="#aaaaff"/>
<rect x="106.9" y="383.7" width="18.93" height="6.64" fill="#ff2a2a"/>
<rect x="124.83" y="383.7" width="18.93" height="6.64" fill="#ffdede"/>
<rect x="142.76" y="383.7" width="18.93" height="6.64" fill="#ffd2d2"/>
<rect x="160.69" y="383.7" width="18.93" height="6.64" fill="#ff7a7a"/>
<rect x="178.62" y="383.7" width="18.93" height="6.64" fill="#ffd2d2"/>
<rect x="196.55" y="383.7" width="18.93" height="6.64" fill="#ffffff"/>
<rect x="214.48" y="383.7" width="36.86" height="6.64" fill="#aaaaff"/>
<rect x="250.34" y="383.7" width="18.93" height="6.64" fill="#cbcbff"/>
<rect x="268.27" y="383.7" width="18.93" height="6.64" fill="#babaff"/>
<rect x="286.2" y="383.7" width="35.86" height="6.64" fill="#aaaaff"/>
<rect x="106.9" y="389.35" width="18.93" height="6.64" fill="#ff5c5c"/>
<rect x="124.83" y="389.35" width="18.93" height="6.64" fill="#ffffff"/>
<rect x="142.76" y="389.35" width="36.86" height="6.64" fill="#ffd2d2"/>
<rect x="178.62" y="389.35" width="18.93" height="6.64" fill="#ff9696"/>
<rect x="196.55" y="389.35" width="18.93" height="6.64" fill="#ff7a7a"/>
<rect x="214.48" y="389.35" width="90.65" height="6.64" fill="#aaaaff"/>
<rect x="304.13" y="389.35" width="17.93" height="6.64" fill="#babaff"/>
<rect x="106.9" y="394.99" width="18.93" height="6.64" fill="#ff7a7a"/>
<rect x="124.83" y="394.99" width="18.93" height="6.64" fill="#ffdede"/>
<rect x="142.76" y="394.99" width="18.93" height="6.64" fill="#ffffff"/>
<rect x="160.69" y="394.99" width="18.93" height="6.64" fill="#ffb4b4"/>
<rect x="178.62" y="394.99" width="18.93" height="6.64" fill="#ffd2d2"/>
<rect x="196.55" y="394.99" width="18.93" height="6.64" fill="#ff5c5c"/>
<rect x="214.48" y="394.99" width="18.93" height="6.64" fill="#aaaaff"/>
<rect x="232.41" y="394.99" width="54.79" height="6.64" fill="#babaff"/>
<rect x="286.2" y="394.99" width="18.93" height="6.64" fill="#aaaaff"/>
<rect x="304.13" y="394.99" width="17.93" height="6.64" fill="#babaff"/>
<rect x="106.9" y="400.64" width="18.93" height="6.64" fill="#ff2a2a"/>
<rect x="124.83" y="400.64" width="18.93" height="6.64" fill="#ff5c5c"/>
<rect x="142.76" y="400.64" width="18.93" height="6.64" fill="#d5d5ff"/>
<rect x="160.69" y="400.64" width="36.86" height="6.64" fill="#ffebeb"/>
<rect x="196.55" y="400.64" width="18.93" height="6.64" fill="#ffffff"/>
<rect x="214.48" y="400.64" width="107.58" height="6.64" fill="#cbcbff"/>
<rect x="106.9" y="406.28" width="36.86" height="6.64" fill="#ff5c5c"/>
<rect x="142.76" y="406.28" width="18.93" height="6.64" fill="#ffb4b4"/>
<rect x="160.69" y="406.28" width="54.79" height="6.64" fill="#ffffff"/>
<rect x="214.48" y="406.28" width="18.93" height="6.64" fill="#9999ff"/>
<rect x="232.41" y="406.28" width="18.93" height="6.64" fill="#ffffff"/>
<rect x="250.34" y="406.28" width="54.79" height="6.64" fill="#aaaaff"/>
<rect x="304.13" y="406.28" width="17.93" height="6.64" fill="#f0f0ff"/>
<rect x="106.9" y="411.92" width="18.93" height="6.64" fill="#ff9696"/>
<rect x="124.83" y="411.92" width="18.93" height="6.64" fill="#ff4646"/>
<rect x="142.76" y="411.92" width="36.86" height="6.64" fill="#ffffff"/>
<rect x="178.62" y="411.92" width="18.93" height="6.64" fill="#ff9696"/>
<rect x="196.55" y="411.92" width="18.93" height="6.64" fill="#ffebeb"/>
<rect x="214.48" y="411.92" width="18.93" height="6.64" fill="#aaaaff"/>
<rect x="232.41" y="411.92" width="18.93" height="6.64" fill="#f0f0ff"/>
<rect x="250.34" y="411.92" width="18.93" height="6.64" fill="#9999ff"/>
<rect x="268.27" y="411.92" width="18.93" height="6.64" fill="#aaaaff"/>
<rect x="286.2" y="411.92" width="18.93" height="6.64" fill="#babaff"/>
<rect x="304.13" y="411.92" width="17.93" height="6.64" fill="#cbcbff"/>
<rect x="106.9" y="417.57" width="18.93" height="6.64" fill="#ff9696"/>
<rect x="124.83" y="417.57" width="18.93" height="6.64" fill="#ffb4b4"/>
<rect x="142.76" y="417.57" width="18.93" height="6.64" fill="#ff0808"/>
<rect x="160.69" y="417.57" width="18.93" height="6.64" fill="#e8e8ff"/>
<rect x="178.62" y="417.57" width="18.93" height="6.64" fill="#d5d5ff"/>
<rect x="196.55" y="417.57" width="18.93" height="6.64" fill="#dedeff"/>
<rect x="214.48" y="417.57" width="18.93" height="6.64" fill="#d5d5ff"/>
<rect x="232.41" y="417.57" width="36.86" height="6.64" fill="#cbcbff"/>
<rect x="268.27" y="417.57" width="36.86" height="6.64" fill="#dedeff"/>
<rect x="304.13" y="417.57" width="17.93" height="6.64" fill="#cbcbff"/>
<rect x="106.9" y="423.21" width="18.93" height="6.64" fill="#ff0808"/>
<rect x="124.83" y="423.21" width="18.93" height="6.64" fill="#ffffff"/>
<rect x="142.76" y="423.21" width="18.93" height="6.64" fill="#ff5c5c"/>
<rect x="160.69" y="423.21" width="18.93" height="6.64" fill="#ffffff"/>
<rect x="178.62" y="423.21" width="18.93" height="6.64" fill="#dedeff"/>
<rect x="196.55" y="423.21" width="18.93" height="6.64" fill="#e8e8ff"/>
<rect x="214.48" y="423.21" width="107.58" height="6.64" fill="#cbcbff"/>
<rect x="106.9" y="428.86" width="18.93" height="5.64" fill="#ffffff"/>
<rect x="124.83" y="428.86" width="18.93" height="5.64" fill="#ffebeb"/>
<rect x="142.76" y="428.86" width="18.93" height="5.64" fill="#ff0808"/>
<rect x="160.69" y="428.86" width="18.93" height="5.64" fill="#ffb4b4"/>
<rect x="178.62" y="428.86" width="18.93" height="5.64" fill="#e8e8ff"/>
<rect x="196.55" y="428.86" width="18.93" height="5.64" fill="#ffffff"/>
<rect x="214.48" y="428.86" width="18.93" height="5.64" fill="#babaff"/>
<rect x="232.41" y="428.86" width="18.93" height="5.64" fill="#cbcbff"/>
<rect x="250.34" y="428.86" width="18.93" height="5.64" fill="#aaaaff"/>
<rect x="268.27" y="428.86" width="18.93" height="5.64" fill="#babaff"/>
<rect x="286.2" y="428.86" width="35.86" height="5.64" fill="#f0f0ff"/>
</g>
<g>
<rect x="516" y="152.3" width="119.08" height="6.64" fill="#aaaaff"/>
<rect x="634.08" y="152.3" width="40.36" height="6.64" fill="#ffb4b4"/>
<rect x="673.44" y="152.3" width="20.68" height="6.64" fill="#ff9696"/>
<rect x="693.12" y="152.3" width="20.68" height="6.64" fill="#ffa5a5"/>
<rect x="712.8" y="152.3" width="20.68" height="6.64" fill="#ffd2d2"/>
<rect x="732.48" y="152.3" width="19.68" height="6.64" fill="#ffb4b4"/>
<rect x="516" y="157.94" width="119.08" height="6.64" fill="#aaaaff"/>
<rect x="634.08" y="157.94" width="20.68" height="6.64" fill="#ffb4b4"/>
<rect x="653.76" y="157.94" width="20.68" height="6.64" fill="#ffd2d2"/>
<rect x="673.44" y="157.94" width="20.68" height="6.64" fill="#ff8888"/>
<rect x="693.12" y="157.94" width="20.68" height="6.64" fill="#ffa5a5"/>
<rect x="712.8" y="157.94" width="20.68" height="6.64" fill="#ffd2d2"/>
<rect x="732.48" y="157.94" width="19.68" height="6.64" fill="#ffa5a5"/>
<rect x="516" y="163.59" width="119.08" height="6.64" fill="#aaaaff"/>
<rect x="634.08" y="163.59" width="20.68" height="6.64" fill="#ff9696"/>
<rect x="653.76" y="163.59" width="20.68" height="6.64" fill="#ffb4b4"/>
<rect x="673.44" y="163.59" width="20.68" height="6.64" fill="#ffa5a5"/>
<rect x="693.12" y="163.59" width="20.68" height="6.64" fill="#ffb4b4"/>
<rect x="712.8" y="163.59" width="20.68" height="6.64" fill="#ffebeb"/>
<rect x="732.48" y="163.59" width="19.68" height="6.64" fill="#ff9696"/>
<rect x="516" y="169.23" width="40.36" height="6.64" fill="#aaaaff"/>
<rect x="555.36" y="169.23" width="20.68" height="6.64" fill="#babaff"/>
<rect x="575.04" y="169.23" width="20.68" height="6.64" fill="#aaaaff"/>
<rect x="594.72" y="169.23" width="20.68" height="6.64" fill="#babaff"/>
<rect x="614.4" y="169.23" width="20.68" height="6.64" fill="#aaaaff"/>
<rect x="634.08" y="169.23" width="20.68" height="6.64" fill="#ffb4b4"/>
<rect x="653.76" y="169.23" width="20.68" height="6.64" fill="#ffdede"/>
<rect x="673.44" y="169.23" width="20.68" height="6.64" fill="#ffb4b4"/>
<rect x="693.12" y="169.23" width="20.68" height="6.64" fill="#ff7a7a"/>
<rect x="712.8" y="169.23" width="20.68" height="6.64" fill="#ffd2d2"/>
<rect x="732.48" y="169.23" width="19.68" height="6.64" fill="#ff8888"/>
<rect x="516" y="174.88" width="20.68" height="6.64" fill="#babaff"/>
<rect x="535.68" y="174.88" width="99.4" height="6.64" fill="#aaaaff"/>
<rect x="634.08" y="174.88" width="20.68" height="6.64" fill="#ff9696"/>
<rect x="653.76" y="174.88" width="20.68" height="6.64" fill="#ffdede"/>
<rect x="673.44" y="174.88" width="20.68" height="6.64" fill="#ffd2d2"/>
<rect x="693.12" y="174.88" width="20.68" height="6.64" fill="#ff8888"/>
<rect x="712.8" y="174.88" width="20.68" height="6.64" fill="#ffb4b4"/>
<rect x="732.48" y="174.88" width="19.68" height="6.64" fill="#ff9696"/>
<rect x="516" y="180.52" width="60.04" height="6.64" fill="#aaaaff"/>
<rect x="575.04" y="180.52" width="40.36" height="6.64" fill="#babaff"/>
<rect x="614.4" y="180.52" width="20.68" height="6.64" fill="#aaaaff"/>
<rect x="634.08" y="180.52" width="20.68" height="6.64" fill="#ffa5a5"/>
<rect x="653.76" y="180.52" width="40.36" height="6.64" fill="#ffd2d2"/>
<rect x="693.12" y="180.52" width="20.68" height="6.64" fill="#ff8888"/>
<rect x="712.8" y="180.52" width="20.68" height="6.64" fill="#ffa5a5"/>
<rect x="732.48" y="180.52" width="19.68" height="6.64" fill="#ff9696"/>
<rect x="516" y="186.16" width="40.36" height="6.64" fill="#aaaaff"/>
<rect x="555.36" y="186.16" width="20.68" height="6.64" fill="#cbcbff"/>
<rect x="575.04" y="186.16" width="20.68" height="6.64" fill="#babaff"/>
<rect x="594.72" y="186.16" width="40.36" height="6.64" fill="#aaaaff"/>
<rect x="634.08" y="186.16" width="20.68" height="6.64" fill="#ffc3c3"/>
<rect x="653.76" y="186.16" width="20.68" height="6.64" fill="#ff7a7a"/>
<rect x="673.44" y="186.16" width="20.68" height="6.64" fill="#ffb4b4"/>
<rect x="693.12" y="186.16" width="20.68" height="6.64" fill="#ffa5a5"/>
<rect x="712.8" y="186.16" width="20.68" height="6.64" fill="#ffdede"/>
<rect x="732.48" y="186.16" width="19.68" height="6.64" fill="#ff9696"/>
<rect x="516" y="191.81" width="60.04" height="6.64" fill="#babaff"/>
<rect x="575.04" y="191.81" width="20.68" height="6.64" fill="#aaaaff"/>
<rect x="594.72" y="191.81" width="20.68" height="6.64" fill="#9999ff"/>
<rect x="614.4" y="191.81" width="20.68" height="6.64" fill="#babaff"/>
<rect x="634.08" y="191.81" width="20.68" height="6.64" fill="#ff9696"/>
<rect x="653.76" y="191.81" width="20.68" height="6.64" fill="#ffdede"/>
<rect x="673.44" y="191.81" width="20.68" height="6.64" fill="#ffebeb"/>
<rect x="693.12" y="191.81" width="20.68" height="6.64" fill="#ffd2d2"/>
<rect x="712.8" y="191.81" width="20.68" height="6.64" fill="#ffb4b4"/>
<rect x="732.48" y="191.81" width="19.68" height="6.64" fill="#ff4646"/>
<rect x="516" y="197.45" width="20.68" height="6.64" fill="#babaff"/>
<rect x="535.68" y="197.45" width="60.04" height="6.64" fill="#aaaaff"/>
<rect x="594.72" y="197.45" width="20.68" height="6.64" fill="#babaff"/>
<rect x="614.4" y="197.45" width="20.68" height="6.64" fill="#aaaaff"/>
<rect x="634.08" y="197.45" width="20.68" height="6.64" fill="#ff5c5c"/>
<rect x="653.76" y="197.45" width="20.68" height="6.64" fill="#ffd2d2"/>
<rect x="673.44" y="197.45" width="20.68" height="6.64" fill="#ffdede"/>
<rect x="693.12" y="197.45" width="20.68" height="6.64" fill="#ff9696"/>
<rect x="712.8" y="197.45" width="20.68" height="6.64" fill="#ffa5a5"/>
<rect x="732.48" y="197.45" width="19.68" height="6.64" fill="#ffb4b4"/>
<rect x="516" y="203.1" width="79.72" height="6.64" fill="#babaff"/>
<rect x="594.72" y="203.1" width="20.68" height="6.64" fill="#aaaaff"/>
<rect x="614.4" y="203.1" width="20.68" height="6.64" fill="#babaff"/>
<rect x="634.08" y="203.1" width="20.68" height="6.64" fill="#ff5c5c"/>
<rect x="653.76" y="203.1" width="20.68" height="6.64" fill="#ffdede"/>
<rect x="673.44" y="203.1" width="20.68" height="6.64" fill="#ffffff"/>
<rect x="693.12" y="203.1" width="40.36" height="6.64" fill="#ffb4b4"/>
<rect x="732.48" y="203.1" width="19.68" height="6.64" fill="#ff9696"/>
<rect x="516" y="208.74" width="119.08" height="6.64" fill="#babaff"/>
<rect x="634.08" y="208.74" width="20.68" height="6.64" fill="#ff9696"/>
<rect x="653.76" y="208.74" width="20.68" height="6.64" fill="#ffdede"/>
<rect x="673.44" y="208.74" width="20.68" height="6.64" fill="#ffffff"/>
<rect x="693.12" y="208.74" width="20.68" height="6.64" fill="#ff5c5c"/>
<rect x="712.8" y="208.74" width="20.68" height="6.64" fill="#ffb4b4"/>
<rect x="732.48" y="208.74" width="19.68" height="6.64" fill="#ffa5a5"/>
<rect x="516" y="214.38" width="20.68" height="6.64" fill="#babaff"/>
<rect x="535.68" y="214.38" width="20.68" height="6.64" fill="#aaaaff"/>
<rect x="555.36" y="214.38" width="20.68" height="6.64" fill="#babaff"/>
<rect x="575.04" y="214.38" width="20.68" height="6.64" fill="#aaaaff"/>
<rect x="594.72" y="214.38" width="20.68" height="6.64" fill="#babaff"/>
<rect x="614.4" y="214.38" width="20.68" height="6.64" fill="#aaaaff"/>
<rect x="634.08" y="214.38" width="20.68" height="6.64" fill="#ff8888"/>
<rect x="653.76" y="214.38" width="20.68" height="6.64" fill="#ffc3c3"/>
<rect x="673.44" y="214.38" width="20.68" height="6.64" fill="#ffffff"/>
<rect x="693.12" y="214.38" width="20.68" height="6.64" fill="#ff7a7a"/>
<rect x="712.8" y="214.38" width="20.68" height="6.64" fill="#ffa5a5"/>
<rect x="732.48" y="214.38" width="19.68" height="6.64" fill="#ff9696"/>
<rect x="516" y="220.03" width="119.08" height="6.64" fill="#babaff"/>
<rect x="634.08" y="220.03" width="20.68" height="6.64" fill="#ffa5a5"/>
<rect x="653.76" y="220.03" width="20.68" height="6.64" fill="#ffebeb"/>
<rect x="673.44" y="220.03" width="20.68" height="6.64" fill="#ffffff"/>
<rect x="693.12" y="220.03" width="20.68" height="6.64" fill="#ff4646"/>
<rect x="712.8" y="220.03" width="20.68" height="6.64" fill="#ffa5a5"/>
<rect x="732.48" y="220.03" width="19.68" height="6.64" fill="#ff9696"/>
<rect x="516" y="225.67" width="99.4" height="6.64" fill="#babaff"/>
<rect x="614.4" y="225.67" width="20.68" height="6.64" fill="#aaaaff"/>
<rect x="634.08" y="225.67" width="20.68" height="6.64" fill="#ff8888"/>
<rect x="653.76" y="225.67" width="20.68" height="6.64" fill="#ffffff"/>
<rect x="673.44" y="225.67" width="20.68" height="6.64" fill="#ffdede"/>
<rect x="693.12" y="225.67" width="20.68" height="6.64" fill="#ff5c5c"/>
<rect x="712.8" y="225.67" width="20.68" height="6.64" fill="#ffd2d2"/>
<rect x="732.48" y="225.67" width="19.68" height="6.64" fill="#ff9696"/>
<rect x="516" y="231.32" width="79.72" height="6.64" fill="#babaff"/>
<rect x="594.72" y="231.32" width="20.68" height="6.64" fill="#aaaaff"/>
<rect x="614.4" y="231.32" width="20.68" height="6.64" fill="#babaff"/>
<rect x="634.08" y="231.32" width="20.68" height="6.64" fill="#ff8888"/>
<rect x="653.76" y="231.32" width="20.68" height="6.64" fill="#ffb4b4"/>
<rect x="673.44" y="231.32" width="20.68" height="6.64" fill="#ffffff"/>
<rect x="693.12" y="231.32" width="20.68" height="6.64" fill="#ff7a7a"/>
<rect x="712.8" y="231.32" width="20.68" height="6.64" fill="#ffdede"/>
<rect x="732.48" y="231.32" width="19.68" height="6.64" fill="#ff8888"/>
<rect x="516" y="236.96" width="79.72" height="6.64" fill="#aaaaff"/>
<rect x="594.72" y="236.96" width="20.68" height="6.64" fill="#babaff"/>
<rect x="614.4" y="236.96" width="20.68" height="6.64" fill="#aaaaff"/>
<rect x="634.08" y="236.96" width="20.68" height="6.64" fill="#ff9696"/>
<rect x="653.76" y="236.96" width="20.68" height="6.64" fill="#ffebeb"/>
<rect x="673.44" y="236.96" width="20.68" height="6.64" fill="#ff7a7a"/>
<rect x="693.12" y="236.96" width="20.68" height="6.64" fill="#ffd2d2"/>
<rect x="712.8" y="236.96" width="20.68" height="6.64" fill="#ffa5a5"/>
<rect x="732.48" y="236.96" width="19.68" height="6.64" fill="#ffb4b4"/>
<rect x="516" y="242.6" width="79.72" height="6.64" fill="#babaff"/>
<rect x="594.72" y="242.6" width="40.36" height="6.64" fill="#aaaaff"/>
<rect x="634.08" y="242.6" width="20.68" height="6.64" fill="#ffb4b4"/>
<rect x="653.76" y="242.6" width="20.68" height="6.64" fill="#ffffff"/>
<rect x="673.44" y="242.6" width="20.68" height="6.64" fill="#ff7a7a"/>
<rect x="693.12" y="242.6" width="20.68" height="6.64" fill="#ffb4b4"/>
<rect x="712.8" y="242.6" width="39.36" height="6.64" fill="#ffa5a5"/>
<rect x="516" y="248.25" width="20.68" height="6.64" fill="#babaff"/>
<rect x="535.68" y="248.25" width="20.68" height="6.64" fill="#aaaaff"/>
<rect x="555.36" y="248.25" width="20.68" height="6.64" fill="#babaff"/>
<rect x="575.04" y="248.25" width="20.68" height="6.64" fill="#aaaaff"/>
<rect x="594.72" y="248.25" width="40.36" height="6.64" fill="#babaff"/>
<rect x="634.08" y="248.25" width="20.68" height="6.64" fill="#ff9696"/>
<rect x="653.76" y="248.25" width="20.68" height="6.64" fill="#ffffff"/>
<rect x="673.44" y="248.25" width="40.36" height="6.64" fill="#ff8888"/>
<rect x="712.8" y="248.25" width="20.68" height="6.64" fill="#ffb4b4"/>
<rect x="732.48" y="248.25" width="19.68" height="6.64" fill="#ffd2d2"/>
<rect x="516" y="253.89" width="20.68" height="6.64" fill="#aaaaff"/>
<rect x="535.68" y="253.89" width="40.36" height="6.64" fill="#babaff"/>
<rect x="575.04" y="253.89" width="20.68" height="6.64" fill="#aaaaff"/>
<rect x="594.72" y="253.89" width="40.36" height="6.64" fill="#babaff"/>
<rect x="634.08" y="253.89" width="20.68" height="6.64" fill="#ff5c5c"/>
<rect x="653.76" y="253.89" width="20.68" height="6.64" fill="#ffd2d2"/>
<rect x="673.44" y="253.89" width="20.68" height="6.64" fill="#ff8888"/>
<rect x="693.12" y="253.89" width="20.68" height="6.64" fill="#ffdede"/>
<rect x="712.8" y="253.89" width="20.68" height="6.64" fill="#ffb4b4"/>
<rect x="732.48" y="253.89" width="19.68" height="6.64" fill="#ffebeb"/>
<rect x="516" y="259.54" width="20.68" height="6.64" fill="#aaaaff"/>
<rect x="535.68" y="259.54" width="20.68" height="6.64" fill="#dedeff"/>
<rect x="555.36" y="259.54" width="79.72" height="6.64" fill="#aaaaff"/>
<rect x="634.08" y="259.54" width="20.68" height="6.64" fill="#ff9696"/>
<rect x="653.76" y="259.54" width="20.68" height="6.64" fill="#ffc3c3"/>
<rect x="673.44" y="259.54" width="20.68" height="6.64" fill="#ff9696"/>
<rect x="693.12" y="259.54" width="20.68" height="6.64" fill="#ffffff"/>
<rect x="712.8" y="259.54" width="20.68" height="6.64" fill="#ff6b6b"/>
<rect x="732.48" y="259.54" width="19.68" height="6.64" fill="#ffb4b4"/>
<rect x="516" y="265.18" width="119.08" height="6.64" fill="#babaff"/>
<rect x="634.08" y="265.18" width="40.36" height="6.64" fill="#ffd2d2"/>
<rect x="673.44" y="265.18" width="20.68" height="6.64" fill="#ffffff"/>
<rect x="693.12" y="265.18" width="20.68" height="6.64" fill="#ff9696"/>
<rect x="712.8" y="265.18" width="20.68" height="6.64" fill="#ff5c5c"/>
<rect x="732.48" y="265.18" width="19.68" height="6.64" fill="#ffa5a5"/>
<rect x="516" y="270.82" width="119.08" height="6.64" fill="#babaff"/>
<rect x="634.08" y="270.82" width="20.68" height="6.64" fill="#ffb4b4"/>
<rect x="653.76" y="270.82" width="20.68" height="6.64" fill="#ffdede"/>
<rect x="673.44" y="270.82" width="20.68" height="6.64" fill="#ffffff"/>
<rect x="693.12" y="270.82" width="20.68" height="6.64" fill="#ff8888"/>
<rect x="712.8" y="270.82" width="20.68" height="6.64" fill="#ff6b6b"/>
<rect x="732.48" y="270.82" width="19.68" height="6.64" fill="#ffc3c3"/>
<rect x="516" y="276.47" width="119.08" height="6.64" fill="#babaff"/>
<rect x="634.08" y="276.47" width="20.68" height="6.64" fill="#ffd2d2"/>
<rect x="653.76" y="276.47" width="20.68" height="6.64" fill="#ffebeb"/>
<rect x="673.44" y="276.47" width="20.68" height="6.64" fill="#e8e8ff"/>
<rect x="693.12" y="276.47" width="20.68" height="6.64" fill="#ff6b6b"/>
<rect x="712.8" y="276.47" width="20.68" height="6.64" fill="#ff7a7a"/>
<rect x="732.48" y="276.47" width="19.68" height="6.64" fill="#ffa5a5"/>
<rect x="516" y="282.11" width="119.08" height="6.64" fill="#babaff"/>
<rect x="634.08" y="282.11" width="20.68" height="6.64" fill="#ff6b6b"/>
<rect x="653.76" y="282.11" width="20.68" height="6.64" fill="#ffffff"/>
<rect x="673.44" y="282.11" width="20.68" height="6.64" fill="#ffdede"/>
<rect x="693.12" y="282.11" width="20.68" height="6.64" fill="#ffa5a5"/>
<rect x="712.8" y="282.11" width="20.68" height="6.64" fill="#ff5c5c"/>
<rect x="732.48" y="282.11" width="19.68" height="6.64" fill="#ffebeb"/>
<rect x="516" y="287.76" width="60.04" height="6.64" fill="#babaff"/>
<rect x="575.04" y="287.76" width="20.68" height="6.64" fill="#cbcbff"/>
<rect x="594.72" y="287.76" width="40.36" height="6.64" fill="#babaff"/>
<rect x="634.08" y="287.76" width="20.68" height="6.64" fill="#ff7a7a"/>
<rect x="653.76" y="287.76" width="20.68" height="6.64" fill="#e8e8ff"/>
<rect x="673.44" y="287.76" width="20.68" height="6.64" fill="#ffd2d2"/>
<rect x="693.12" y="287.76" width="20.68" height="6.64" fill="#ffa5a5"/>
<rect x="712.8" y="287.76" width="20.68" height="6.64" fill="#ff5c5c"/>
<rect x="732.48" y="287.76" width="19.68" height="6.64" fill="#ffd2d2"/>
<rect x="516" y="293.4" width="119.08" height="6.64" fill="#babaff"/>
<rect x="634.08" y="293.4" width="20.68" height="6.64" fill="#ff8888"/>
<rect x="653.76" y="293.4" width="20.68" height="6.64" fill="#e8e8ff"/>
<rect x="673.44" y="293.4" width="20.68" height="6.64" fill="#ffebeb"/>
<rect x="693.12" y="293.4" width="20.68" height="6.64" fill="#ff5c5c"/>
<rect x="712.8" y="293.4" width="20.68" height="6.64" fill="#ff7a7a"/>
<rect x="732.48" y="293.4" width="19.68" height="6.64" fill="#ffdede"/>
<rect x="516" y="299.04" width="99.4" height="6.64" fill="#babaff"/>
<rect x="614.4" y="299.04" width="20.68" height="6.64" fill="#aaaaff"/>
<rect x="634.08" y="299.04" width="20.68" height="6.64" fill="#ffd2d2"/>
<rect x="653.76" y="299.04" width="20.68" height="6.64" fill="#ffa5a5"/>
<rect x="673.44" y="299.04" width="20.68" height="6.64" fill="#ffffff"/>
<rect x="693.12" y="299.04" width="20.68" height="6.64" fill="#ff5151"/>
<rect x="712.8" y="299.04" width="20.68" height="6.64" fill="#ffa5a5"/>
<rect x="732.48" y="299.04" width="19.68" height="6.64" fill="#ffd2d2"/>
<rect x="516" y="304.69" width="79.72" height="6.64" fill="#babaff"/>
<rect x="594.72" y="304.69" width="20.68" height="6.64" fill="#f0f0ff"/>
<rect x="614.4" y="304.69" width="20.68" height="6.64" fill="#babaff"/>
<rect x="634.08" y="304.69" width="20.68" height="6.64" fill="#ffffff"/>
<rect x="653.76" y="304.69" width="20.68" height="6.64" fill="#ff8888"/>
<rect x="673.44" y="304.69" width="20.68" height="6.64" fill="#e8e8ff"/>
<rect x="693.12" y="304.69" width="20.68" height="6.64" fill="#ff3838"/>
<rect x="712.8" y="304.69" width="20.68" height="6.64" fill="#ffc3c3"/>
<rect x="732.48" y="304.69" width="19.68" height="6.64" fill="#ffdede"/>
<rect x="516" y="310.33" width="119.08" height="6.64" fill="#babaff"/>
<rect x="634.08" y="310.33" width="20.68" height="6.64" fill="#ffa5a5"/>
<rect x="653.76" y="310.33" width="20.68" height="6.64" fill="#ff8888"/>
<rect x="673.44" y="310.33" width="20.68" height="6.64" fill="#cbcbff"/>
<rect x="693.12" y="310.33" width="20.68" height="6.64" fill="#ff7a7a"/>
<rect x="712.8" y="310.33" width="20.68" height="6.64" fill="#fff5f5"/>
<rect x="732.48" y="310.33" width="19.68" height="6.64" fill="#ffa5a5"/>
<rect x="516" y="315.98" width="119.08" height="6.64" fill="#babaff"/>
<rect x="634.08" y="315.98" width="20.68" height="6.64" fill="#ffffff"/>
<rect x="653.76" y="315.98" width="20.68" height="6.64" fill="#ffd2d2"/>
<rect x="673.44" y="315.98" width="20.68" height="6.64" fill="#dedeff"/>
<rect x="693.12" y="315.98" width="40.36" height="6.64" fill="#ffb4b4"/>
<rect x="732.48" y="315.98" width="19.68" height="6.64" fill="#ff2a2a"/>
<rect x="516" y="321.62" width="119.08" height="6.64" fill="#babaff"/>
<rect x="634.08" y="321.62" width="20.68" height="6.64" fill="#ff5c5c"/>
<rect x="653.76" y="321.62" width="20.68" height="6.64" fill="#ffa5a5"/>
<rect x="673.44" y="321.62" width="20.68" height="6.64" fill="#d5d5ff"/>
<rect x="693.12" y="321.62" width="20.68" height="6.64" fill="#ff7a7a"/>
<rect x="712.8" y="321.62" width="20.68" height="6.64" fill="#ffd2d2"/>
<rect x="732.48" y="321.62" width="19.68" height="6.64" fill="#ffffff"/>
<rect x="516" y="327.26" width="60.04" height="6.64" fill="#babaff"/>
<rect x="575.04" y="327.26" width="20.68" height="6.64" fill="#cbcbff"/>
<rect x="594.72" y="327.26" width="40.36" height="6.64" fill="#babaff"/>
<rect x="634.08" y="327.26" width="20.68" height="6.64" fill="#ff5c5c"/>
<rect x="653.76" y="327.26" width="20.68" height="6.64" fill="#ffc3c3"/>
<rect x="673.44" y="327.26" width="20.68" height="6.64" fill="#e8e8ff"/>
<rect x="693.12" y="327.26" width="20.68" height="6.64" fill="#ff6b6b"/>
<rect x="712.8" y="327.26" width="20.68" height="6.64" fill="#ffd2d2"/>
<rect x="732.48" y="327.26" width="19.68" height="6.64" fill="#ffebeb"/>
<rect x="516" y="332.91" width="99.4" height="6.64" fill="#babaff"/>
<rect x="614.4" y="332.91" width="20.68" height="6.64" fill="#cbcbff"/>
<rect x="634.08" y="332.91" width="20.68" height="6.64" fill="#ff5c5c"/>
<rect x="653.76" y="332.91" width="20.68" height="6.64" fill="#ff8888"/>
<rect x="673.44" y="332.91" width="20.68" height="6.64" fill="#cbcbff"/>
<rect x="693.12" y="332.91" width="20.68" height="6.64" fill="#ff5c5c"/>
<rect x="712.8" y="332.91" width="39.36" height="6.64" fill="#ffffff"/>
<rect x="516" y="338.55" width="20.68" height="6.64" fill="#babaff"/>
<rect x="535.68" y="338.55" width="20.68" height="6.64" fill="#cbcbff"/>
<rect x="555.36" y="338.55" width="20.68" height="6.64" fill="#babaff"/>
<rect x="575.04" y="338.55" width="20.68" height="6.64" fill="#cbcbff"/>
<rect x="594.72" y="338.55" width="40.36" height="6.64" fill="#babaff"/>
<rect x="634.08" y="338.55" width="20.68" height="6.64" fill="#ff1919"/>
<rect x="653.76" y="338.55" width="20.68" height="6.64" fill="#ffdede"/>
<rect x="673.44" y="338.55" width="20.68" height="6.64" fill="#e8e8ff"/>
<rect x="693.12" y="338.55" width="20.68" height="6.64" fill="#ff9696"/>
<rect x="712.8" y="338.55" width="20.68" height="6.64" fill="#ffebeb"/>
<rect x="732.48" y="338.55" width="19.68" height="6.64" fill="#ffdede"/>
<rect x="516" y="344.2" width="79.72" height="6.64" fill="#babaff"/>
<rect x="594.72" y="344.2" width="20.68" height="6.64" fill="#cbcbff"/>
<rect x="614.4" y="344.2" width="20.68" height="6.64" fill="#babaff"/>
<rect x="634.08" y="344.2" width="20.68" height="6.64" fill="#ff4646"/>
<rect x="653.76" y="344.2" width="20.68" height="6.64" fill="#ff8888"/>
<rect x="673.44" y="344.2" width="20.68" height="6.64" fill="#e8e8ff"/>
<rect x="693.12" y="344.2" width="20.68" height="6.64" fill="#ff9696"/>
<rect x="712.8" y="344.2" width="20.68" height="6.64" fill="#ffffff"/>
<rect x="732.48" y="344.2" width="19.68" height="6.64" fill="#ffdede"/>
<rect x="516" y="349.84" width="40.36" height="6.64" fill="#babaff"/>
<rect x="555.36" y="349.84" width="20.68" height="6.64" fill="#cbcbff"/>
<rect x="575.04" y="349.84" width="20.68" height="6.64" fill="#babaff"/>
<rect x="594.72" y="349.84" width="20.68" height="6.64" fill="#cbcbff"/>
<rect x="614.4" y="349.84" width="20.68" height="6.64" fill="#babaff"/>
<rect x="634.08" y="349.84" width="20.68" height="6.64" fill="#ff4646"/>
<rect x="653.76" y="349.84" width="20.68" height="6.64" fill="#ffb4b4"/>
<rect x="673.44" y="349.84" width="20.68" height="6.64" fill="#e8e8ff"/>
<rect x="693.12" y="349.84" width="20.68" height="6.64" fill="#ffa5a5"/>
<rect x="712.8" y="349.84" width="20.68" height="6.64" fill="#e8e8ff"/>
<rect x="732.48" y="349.84" width="19.68" height="6.64" fill="#ffc3c3"/>
<rect x="516" y="355.48" width="20.68" height="6.64" fill="#ffffff"/>
<rect x="535.68" y="355.48" width="20.68" height="6.64" fill="#aaaaff"/>
<rect x="555.36" y="355.48" width="20.68" height="6.64" fill="#ffffff"/>
<rect x="575.04" y="355.48" width="20.68" height="6.64" fill="#aaaaff"/>
<rect x="594.72" y="355.48" width="40.36" height="6.64" fill="#9999ff"/>
<rect x="634.08" y="355.48" width="20.68" height="6.64" fill="#ff4646"/>
<rect x="653.76" y="355.48" width="20.68" height="6.64" fill="#ffffff"/>
<rect x="673.44" y="355.48" width="20.68" height="6.64" fill="#ffebeb"/>
<rect x="693.12" y="355.48" width="20.68" height="6.64" fill="#ffa5a5"/>
<rect x="712.8" y="355.48" width="20.68" height="6.64" fill="#ffc3c3"/>
<rect x="732.48" y="355.48" width="19.68" height="6.64" fill="#ffffff"/>
<rect x="516" y="361.13" width="20.68" height="6.64" fill="#cbcbff"/>
<rect x="535.68" y="361.13" width="20.68" height="6.64" fill="#babaff"/>
<rect x="555.36" y="361.13" width="20.68" height="6.64" fill="#f0f0ff"/>
<rect x="575.04" y="361.13" width="20.68" height="6.64" fill="#aaaaff"/>
<rect x="594.72" y="361.13" width="20.68" height="6.64" fill="#babaff"/>
<rect x="614.4" y="361.13" width="20.68" height="6.64" fill="#aaaaff"/>
<rect x="634.08" y="361.13" width="20.68" height="6.64" fill="#ff4646"/>
<rect x="653.76" y="361.13" width="20.68" height="6.64" fill="#ffffff"/>
<rect x="673.44" y="361.13" width="20.68" height="6.64" fill="#ffebeb"/>
<rect x="693.12" y="361.13" width="20.68" height="6.64" fill="#ff5c5c"/>
<rect x="712.8" y="361.13" width="20.68" height="6.64" fill="#ffc3c3"/>
<rect x="732.48" y="361.13" width="19.68" height="6.64" fill="#ffffff"/>
<rect x="516" y="366.77" width="20.68" height="6.64" fill="#dedeff"/>
<rect x="535.68" y="366.77" width="60.04" height="6.64" fill="#babaff"/>
<rect x="594.72" y="366.77" width="20.68" height="6.64" fill="#dedeff"/>
<rect x="614.4" y="366.77" width="20.68" height="6.64" fill="#babaff"/>
<rect x="634.08" y="366.77" width="20.68" height="6.64" fill="#ff2a2a"/>
<rect x="653.76" y="366.77" width="20.68" height="6.64" fill="#ffd2d2"/>
<rect x="673.44" y="366.77" width="20.68" height="6.64" fill="#cbcbff"/>
<rect x="693.12" y="366.77" width="20.68" height="6.64" fill="#ffebeb"/>
<rect x="712.8" y="366.77" width="20.68" height="6.64" fill="#ff8888"/>
<rect x="732.48" y="366.77" width="19.68" height="6.64" fill="#ffebeb"/>
<rect x="516" y="372.42" width="119.08" height="6.64" fill="#babaff"/>
<rect x="634.08" y="372.42" width="20.68" height="6.64" fill="#ff7a7a"/>
<rect x="653.76" y="372.42" width="20.68" height="6.64" fill="#ffebeb"/>
<rect x="673.44" y="372.42" width="20.68" height="6.64" fill="#ff8888"/>
<rect x="693.12" y="372.42" width="20.68" height="6.64" fill="#ff5c5c"/>
<rect x="712.8" y="372.42" width="39.36" height="6.64" fill="#ffffff"/>
<rect x="516" y="378.06" width="20.68" height="6.64" fill="#babaff"/>
<rect x="535.68" y="378.06" width="20.68" height="6.64" fill="#cbcbff"/>
<rect x="555.36" y="378.06" width="40.36" height="6.64" fill="#babaff"/>
<rect x="594.72" y="378.06" width="20.68" height="6.64" fill="#cbcbff"/>
<rect x="614.4" y="378.06" width="20.68" height="6.64" fill="#babaff"/>
<rect x="634.08" y="378.06" width="20.68" height="6.64" fill="#ffc3c3"/>
<rect x="653.76" y="378.06" width="20.68" height="6.64" fill="#ffdede"/>
<rect x="673.44" y="378.06" width="20.68" height="6.64" fill="#ffebeb"/>
<rect x="693.12" y="378.06" width="20.68" height="6.64" fill="#ff1919"/>
<rect x="712.8" y="378.06" width="20.68" height="6.64" fill="#ffd2d2"/>
<rect x="732.48" y="378.06" width="19.68" height="6.64" fill="#e8e8ff"/>
<rect x="516" y="383.7" width="119.08" height="6.64" fill="#cbcbff"/>
<rect x="634.08" y="383.7" width="20.68" height="6.64" fill="#ffb4b4"/>
<rect x="653.76" y="383.7" width="20.68" height="6.64" fill="#ffebeb"/>
<rect x="673.44" y="383.7" width="20.68" height="6.64" fill="#dedeff"/>
<rect x="693.12" y="383.7" width="20.68" height="6.64" fill="#ff0808"/>
<rect x="712.8" y="383.7" width="20.68" height="6.64" fill="#e8e8ff"/>
<rect x="732.48" y="383.7" width="19.68" height="6.64" fill="#ffd2d2"/>
<rect x="516" y="389.35" width="20.68" height="6.64" fill="#babaff"/>
<rect x="535.68" y="389.35" width="20.68" height="6.64" fill="#f0f0ff"/>
<rect x="555.36" y="389.35" width="20.68" height="6.64" fill="#babaff"/>
<rect x="575.04" y="389.35" width="20.68" height="6.64" fill="#c2c2ff"/>
<rect x="594.72" y="389.35" width="40.36" height="6.64" fill="#babaff"/>
<rect x="634.08" y="389.35" width="20.68" height="6.64" fill="#ff8888"/>
<rect x="653.76" y="389.35" width="20.68" height="6.64" fill="#d5d5ff"/>
<rect x="673.44" y="389.35" width="20.68" height="6.64" fill="#ffebeb"/>
<rect x="693.12" y="389.35" width="20.68" height="6.64" fill="#ff5c5c"/>
<rect x="712.8" y="389.35" width="20.68" height="6.64" fill="#d5d5ff"/>
<rect x="732.48" y="389.35" width="19.68" height="6.64" fill="#ff5c5c"/>
<rect x="516" y="394.99" width="119.08" height="6.64" fill="#babaff"/>
<rect x="634.08" y="394.99" width="20.68" height="6.64" fill="#ffd2d2"/>
<rect x="653.76" y="394.99" width="20.68" height="6.64" fill="#ffebeb"/>
<rect x="673.44" y="394.99" width="20.68" height="6.64" fill="#ff4646"/>
<rect x="693.12" y="394.99" width="20.68" height="6.64" fill="#ffd2d2"/>
<rect x="712.8" y="394.99" width="20.68" height="6.64" fill="#ffebeb"/>
<rect x="732.48" y="394.99" width="19.68" height="6.64" fill="#ff8888"/>
<rect x="516" y="400.64" width="119.08" height="6.64" fill="#babaff"/>
<rect x="634.08" y="400.64" width="40.36" height="6.64" fill="#ffebeb"/>
<rect x="673.44" y="400.64" width="20.68" height="6.64" fill="#ff2a2a"/>
<rect x="693.12" y="400.64" width="20.68" height="6.64" fill="#ffa5a5"/>
<rect x="712.8" y="400.64" width="20.68" height="6.64" fill="#ffdede"/>
<rect x="732.48" y="400.64" width="19.68" height="6.64" fill="#ffd2d2"/>
<rect x="516" y="406.28" width="119.08" height="6.64" fill="#babaff"/>
<rect x="634.08" y="406.28" width="20.68" height="6.64" fill="#ffd2d2"/>
<rect x="653.76" y="406.28" width="20.68" height="6.64" fill="#ffdede"/>
<rect x="673.44" y="406.28" width="20.68" height="6.64" fill="#ff6b6b"/>
<rect x="693.12" y="406.28" width="20.68" height="6.64" fill="#ff5c5c"/>
<rect x="712.8" y="406.28" width="20.68" height="6.64" fill="#ffebeb"/>
<rect x="732.48" y="406.28" width="19.68" height="6.64" fill="#ffd2d2"/>
<rect x="516" y="411.92" width="119.08" height="6.64" fill="#babaff"/>
<rect x="634.08" y="411.92" width="20.68" height="6.64" fill="#ffffff"/>
<rect x="653.76" y="411.92" width="20.68" height="6.64" fill="#ffebeb"/>
<rect x="673.44" y="411.92" width="40.36" height="6.64" fill="#ff6b6b"/>
<rect x="712.8" y="411.92" width="20.68" height="6.64" fill="#ffebeb"/>
<rect x="732.48" y="411.92" width="19.68" height="6.64" fill="#ff8888"/>
<rect x="516" y="417.57" width="20.68" height="6.64" fill="#babaff"/>
<rect x="535.68" y="417.57" width="20.68" height="6.64" fill="#aaaaff"/>
<rect x="555.36" y="417.57" width="20.68" height="6.64" fill="#f0f0ff"/>
<rect x="575.04" y="417.57" width="40.36" height="6.64" fill="#9999ff"/>
<rect x="614.4" y="417.57" width="20.68" height="6.64" fill="#aaaaff"/>
<rect x="634.08" y="417.57" width="40.36" height="6.64" fill="#ffd2d2"/>
<rect x="673.44" y="417.57" width="20.68" height="6.64" fill="#ff9696"/>
<rect x="693.12" y="417.57" width="20.68" height="6.64" fill="#ff6b6b"/>
<rect x="712.8" y="417.57" width="20.68" height="6.64" fill="#ffffff"/>
<rect x="732.48" y="417.57" width="19.68" height="6.64" fill="#ffb4b4"/>
<rect x="516" y="423.21" width="20.68" height="6.64" fill="#cbcbff"/>
<rect x="535.68" y="423.21" width="20.68" height="6.64" fill="#aaaaff"/>
<rect x="555.36" y="423.21" width="20.68" height="6.64" fill="#cbcbff"/>
<rect x="575.04" y="423.21" width="20.68" height="6.64" fill="#aaaaff"/>
<rect x="594.72" y="423.21" width="40.36" height="6.64" fill="#babaff"/>
<rect x="634.08" y="423.21" width="20.68" height="6.64" fill="#ffd2d2"/>
<rect x="653.76" y="423.21" width="20.68" height="6.64" fill="#ffffff"/>
<rect x="673.44" y="423.21" width="20.68" height="6.64" fill="#ffc3c3"/>
<rect x="693.12" y="423.21" width="20.68" height="6.64" fill="#ff3838"/>
<rect x="712.8" y="423.21" width="20.68" height="6.64" fill="#ffffff"/>
<rect x="732.48" y="423.21" width="19.68" height="6.64" fill="#ffa5a5"/>
<rect x="516" y="428.86" width="119.08" height="5.64" fill="#cbcbff"/>
<rect x="634.08" y="428.86" width="20.68" height="5.64" fill="#ffffff"/>
<rect x="653.76" y="428.86" width="20.68" height="5.64" fill="#ffdede"/>
<rect x="673.44" y="428.86" width="20.68" height="5.64" fill="#ff0808"/>
<rect x="693.12" y="428.86" width="20.68" height="5.64" fill="#e8e8ff"/>
<rect x="712.8" y="428.86" width="20.68" height="5.64" fill="#ffffff"/>
<rect x="732.48" y="428.86" width="19.68" height="5.64" fill="#ffdede"/>
</g>
<path d="M103 155.12H101.6V160.77H103M101.6 157.94H100.5V166.41H103M100.5 162.18H99.7V172.05H103M99.7 167.12H99.4V177.7H103M99.4 172.41H93.3V183.34H103M93.3 177.87H87.3V188.99H103M103 200.27H102.3V205.92H103M102.3 203.1H101.9V211.56H103M103 194.63H101.3V207.33H101.9M103 217.21H100V222.85H103M101.3 200.98H98.3V220.03H100M103 228.49H102.2V234.14H103M102.2 231.32H101.5V239.78H103M98.3 210.5H95.5V235.55H101.5M103 245.43H101.7V251.07H103M103 262.36H100.5V268H103M103 256.71H99.3V265.18H100.5M101.7 248.25H96.3V260.95H99.3M95.5 223.03H94.3V254.6H96.3M87.3 183.43H79V238.81H94.3M103 273.65H101.7V279.29H103M103 284.93H101.5V290.58H103M101.5 287.76H100.3V296.22H103M100.3 291.99H98.1V301.87H103M101.7 276.47H95.5V296.93H98.1M79 211.12H76.7V286.7H95.5M103 307.51H96.3V313.15H103M103 318.8H99.6V324.44H103M99.6 321.62H96.7V330.09H103M96.7 325.85H94.5V335.73H103M96.3 310.33H88.3V330.79H94.5M76.7 248.91H69.4V320.56H88.3M103 341.37H100.6V347.02H103M69.4 284.74H55.6V344.2H100.6M103 352.66H99.5V358.31H103M103 363.95H99.5V369.59H103M99.5 355.48H97.3V366.77H99.5M103 375.24H98.4V380.88H103M98.4 378.06H95.6V386.53H103M97.3 361.13H90.3V382.29H95.6M103 392.17H99.5V397.81H103M90.3 371.71H87.5V394.99H99.5M103 409.1H93.6V414.75H103M103 403.46H87V411.92H93.6M87.5 383.35H63.4V407.69H87M103 420.39H90.3V426.03H103M90.3 423.21H74.3V431.68H103M63.4 395.52H34.3V427.44H74.3M55.6 314.47H5.9V411.48H34.3" fill="none" stroke="#1a1a1a" stroke-width="0.6"/>
<path d="M512.2 155.12H511.6V160.77H512.2M511.6 157.94H511.1V166.41H512.2M512.2 177.7H511V183.34H512.2M512.2 172.05H510.4V180.52H511M511.1 162.18H506.2V176.29H510.4M506.2 169.23H504.3V188.99H512.2M504.3 179.11H500.3V194.63H512.2M512.2 200.27H510.5V205.92H512.2M512.2 211.56H510.8V217.21H512.2M510.8 214.38H510V222.85H512.2M510 218.62H509V228.49H512.2M509 223.56H508.2V234.14H512.2M510.5 203.1H505.1V228.85H508.2M500.3 186.87H493.1V215.97H505.1M512.2 239.78H510.3V245.43H512.2M510.3 242.6H508.2V251.07H512.2M508.2 246.84H505.1V256.71H512.2M505.1 251.78H501.8V262.36H512.2M493.1 201.42H485.6V257.07H501.8M512.2 273.65H509.6V279.29H512.2M512.2 268H508.4V276.47H509.6M512.2 284.93H509.6V290.58H512.2M509.6 287.76H508.4V296.22H512.2M508.4 272.24H498.4V291.99H508.4M485.6 229.24H477.2V282.11H498.4M512.2 301.87H507.8V307.51H512.2M507.8 304.69H500.6V313.15H512.2M500.6 308.92H485.5V318.8H512.2M477.2 255.68H466.9V313.86H485.5M512.2 324.44H510.4V330.09H512.2M510.4 327.26H507.4V335.73H512.2M512.2 347.02H508.9V352.66H512.2M512.2 341.37H505.6V349.84H508.9M507.4 331.5H502.5V345.61H505.6M512.2 358.31H504.5V363.95H512.2M504.5 361.13H493.5V369.59H512.2M502.5 338.55H482.8V365.36H493.5M512.2 375.24H498.5V380.88H512.2M512.2 386.53H493.5V392.17H512.2M498.5 378.06H479.2V389.35H493.5M482.8 351.96H459.5V383.7H479.2M466.9 284.77H440.7V367.83H459.5M512.2 397.81H507.7V403.46H512.2M512.2 409.1H507.7V414.75H512.2M512.2 420.39H506.8V426.03H512.2M507.7 411.92H504.3V423.21H506.8M507.7 400.64H496.5V417.57H504.3M496.5 409.1H464.3V431.68H512.2M440.7 326.3H405.7V420.39H464.3" fill="none" stroke="#1a1a1a" stroke-width="0.6"/>
<g font-size="4.6" transform="rotate(0.03)" stroke="#111" stroke-width="0.22">
<text transform="translate(328.1 156.77) scale(0.92 1)">SLC13A5</text>
<text transform="translate(328.1 162.42) scale(0.92 1)">FIBIN</text>
<text transform="translate(328.1 168.06) scale(0.92 1)">HABP2</text>
<text transform="translate(328.1 173.7) scale(0.92 1)">NF2L</text>
<text transform="translate(328.1 179.35) scale(0.92 1)">ANO3</text>
<text transform="translate(328.1 184.99) scale(0.92 1)">NTN1</text>
<text transform="translate(328.1 190.64) scale(0.92 1)">SYT15</text>
<text transform="translate(328.1 196.28) scale(0.92 1)">TNFSF10</text>
<text transform="translate(328.1 201.92) scale(0.92 1)">ADPRHL1</text>
<text transform="translate(328.1 207.57) scale(0.92 1)">SLC13A2</text>
<text transform="translate(328.1 213.21) scale(0.92 1)">GATA3</text>
<text transform="translate(328.1 218.86) scale(0.92 1)">ARHGAP25</text>
<text transform="translate(328.1 224.5) scale(0.92 1)">ADRA2A</text>
<text transform="translate(328.1 230.14) scale(0.92 1)">AMER2</text>
<text transform="translate(328.1 235.79) scale(0.92 1)">XAF1</text>
<text transform="translate(328.1 241.43) scale(0.92 1)">TCERG1L</text>
<text transform="translate(328.1 247.08) scale(0.92 1)">SEMA3G</text>
<text transform="translate(328.1 252.72) scale(0.92 1)">CA9</text>
<text transform="translate(328.1 258.36) scale(0.92 1)">DSC1</text>
<text transform="translate(328.1 264.01) scale(0.92 1)">POMGNT1</text>
<text transform="translate(328.1 269.65) scale(0.92 1)">ODZ1</text>
<text transform="translate(328.1 275.3) scale(0.92 1)">SLC25A15</text>
<text transform="translate(328.1 280.94) scale(0.92 1)">CTNNA3</text>
<text transform="translate(328.1 286.58) scale(0.92 1)">CYP7A1</text>
<text transform="translate(328.1 292.23) scale(0.92 1)">KLB</text>
<text transform="translate(328.1 297.87) scale(0.92 1)">FAM159A</text>
<text transform="translate(328.1 303.52) scale(0.92 1)">BCAS1</text>
<text transform="translate(328.1 309.16) scale(0.92 1)">FIBRINOGEN</text>
<text transform="translate(328.1 314.8) scale(0.92 1)">PCBP2</text>
<text transform="translate(328.1 320.45) scale(0.92 1)">SRL</text>
<text transform="translate(328.1 326.09) scale(0.92 1)">TDT</text>
<text transform="translate(328.1 331.74) scale(0.92 1)">SAMD7</text>
<text transform="translate(328.1 337.38) scale(0.92 1)">GNRHR</text>
<text transform="translate(328.1 343.02) scale(0.92 1)">PLA2G4F</text>
<text transform="translate(328.1 348.67) scale(0.92 1)">PLA2G4E</text>
<text transform="translate(328.1 354.31) scale(0.92 1)">RASD1</text>
<text transform="translate(328.1 359.96) scale(0.92 1)">EVPL</text>
<text transform="translate(328.1 365.6) scale(0.92 1)">HAS2</text>
<text transform="translate(328.1 371.24) scale(0.92 1)">DAB1</text>
<text transform="translate(328.1 376.89) scale(0.92 1)">VWD</text>
<text transform="translate(328.1 382.53) scale(0.92 1)">CDX2</text>
<text transform="translate(328.1 388.18) scale(0.92 1)">FREM2</text>
<text transform="translate(328.1 393.82) scale(0.92 1)">GJA8</text>
<text transform="translate(328.1 399.46) scale(0.92 1)">NR1D1</text>
<text transform="translate(328.1 405.11) scale(0.92 1)">GRXCR1</text>
<text transform="translate(328.1 410.75) scale(0.92 1)">CGA</text>
<text transform="translate(328.1 416.4) scale(0.92 1)">KCNA1</text>
<text transform="translate(328.1 422.04) scale(0.92 1)">MMP13</text>
<text transform="translate(328.1 427.68) scale(0.92 1)">C4B</text>
<text transform="translate(328.1 433.33) scale(0.92 1)">SLC26A4</text>
<text x="759.3" y="156.77">CALB1</text>
<text x="759.3" y="162.42">SPP1</text>
<text x="759.3" y="168.06">BPIFB3</text>
<text x="759.3" y="173.7">MAP3K15</text>
<text x="759.3" y="179.35">LOC415478</text>
<text x="759.3" y="184.99">WSCD2</text>
<text x="759.3" y="190.64">PHGDH</text>
<text x="759.3" y="196.28">SLC38A8</text>
<text x="759.3" y="201.92">RUBCNL</text>
<text x="759.3" y="207.57">WNT11</text>
<text x="759.3" y="213.21">CEMIP</text>
<text x="759.3" y="218.86">PLPPR4</text>
<text x="759.3" y="224.5">LOC431250</text>
<text x="759.3" y="230.14">SLC28A4</text>
<text x="759.3" y="235.79">FABP3</text>
<text x="759.3" y="241.43">OTOP2</text>
<text x="759.3" y="247.08">TUBB3</text>
<text x="759.3" y="252.72">BPIL3</text>
<text x="759.3" y="258.36">B3GNT7</text>
<text x="759.3" y="264.01">OTOP3</text>
<text x="759.3" y="269.65">MFSD13A</text>
<text x="759.3" y="275.3">ANGPTL3</text>
<text x="759.3" y="280.94">POMC</text>
<text x="759.3" y="286.58">GAL3ST2</text>
<text x="759.3" y="292.23">MIR6556</text>
<text x="759.3" y="297.87">NEU4</text>
<text x="759.3" y="303.52">ETNK1</text>
<text x="759.3" y="309.16">HEPACAM</text>
<text x="759.3" y="314.8">GNRHR</text>
<text x="759.3" y="320.45">OFCC1</text>
<text x="759.3" y="326.09">GNG4</text>
<text x="759.3" y="331.74">FAM163A</text>
<text x="759.3" y="337.38">ECEL1</text>
<text x="759.3" y="343.02">SLC6A17</text>
<text x="759.3" y="348.67">SS2</text>
<text x="759.3" y="354.31">SEMA3D</text>
<text x="759.3" y="359.96">ETV4</text>
<text x="759.3" y="365.6">PERM1</text>
<text x="759.3" y="371.24">EREG</text>
<text x="759.3" y="376.89">RHOBTB3</text>
<text x="759.3" y="382.53">MKI67</text>
<text x="759.3" y="388.18">CHRNB4</text>
<text x="759.3" y="393.82">BHLHA15</text>
<text x="759.3" y="399.46">CHRD</text>
<text x="759.3" y="405.11">COL21A1</text>
<text x="759.3" y="410.75">KCNH1</text>
<text x="759.3" y="416.4">REG4</text>
<text x="759.3" y="422.04">TNFRSF6B</text>
<text x="759.3" y="427.68">NPTX1</text>
<text x="759.3" y="433.33">MCHR2</text>
</g>
<g font-size="6.7" stroke="#111" stroke-width="0.12">
<text transform="translate(116.27 443.4) rotate(-90)" text-anchor="end">G1a</text>
<text transform="translate(134.2 443.4) rotate(-90)" text-anchor="end">G1b</text>
<text transform="translate(152.13 443.4) rotate(-90)" text-anchor="end">G1c</text>
<text transform="translate(170.06 443.4) rotate(-90)" text-anchor="end">G1d</text>
<text transform="translate(187.99 443.4) rotate(-90)" text-anchor="end">G1e</text>
<text transform="translate(205.91 443.4) rotate(-90)" text-anchor="end">G1f</text>
<text transform="translate(223.84 443.4) rotate(-90)" text-anchor="end">G2a</text>
<text transform="translate(241.78 443.4) rotate(-90)" text-anchor="end">G2b</text>
<text transform="translate(259.7 443.4) rotate(-90)" text-anchor="end">G2c</text>
<text transform="translate(277.63 443.4) rotate(-90)" text-anchor="end">G2d</text>
<text transform="translate(295.56 443.4) rotate(-90)" text-anchor="end">G2e</text>
<text transform="translate(313.5 443.4) rotate(-90)" text-anchor="end">G2f</text>
<text transform="translate(526.34 443.4) rotate(-90)" text-anchor="end">G1a</text>
<text transform="translate(546.02 443.4) rotate(-90)" text-anchor="end">G1b</text>
<text transform="translate(565.7 443.4) rotate(-90)" text-anchor="end">G1c</text>
<text transform="translate(585.38 443.4) rotate(-90)" text-anchor="end">G1d</text>
<text transform="translate(605.06 443.4) rotate(-90)" text-anchor="end">G1e</text>
<text transform="translate(624.74 443.4) rotate(-90)" text-anchor="end">G1f</text>
<text transform="translate(644.42 443.4) rotate(-90)" text-anchor="end">G2a</text>
<text transform="translate(664.1 443.4) rotate(-90)" text-anchor="end">G2b</text>
<text transform="translate(683.78 443.4) rotate(-90)" text-anchor="end">G2c</text>
<text transform="translate(703.46 443.4) rotate(-90)" text-anchor="end">G2d</text>
<text transform="translate(723.14 443.4) rotate(-90)" text-anchor="end">G2e</text>
<text transform="translate(742.82 443.4) rotate(-90)" text-anchor="end">G2f</text>
</g>
</svg></body></html>
